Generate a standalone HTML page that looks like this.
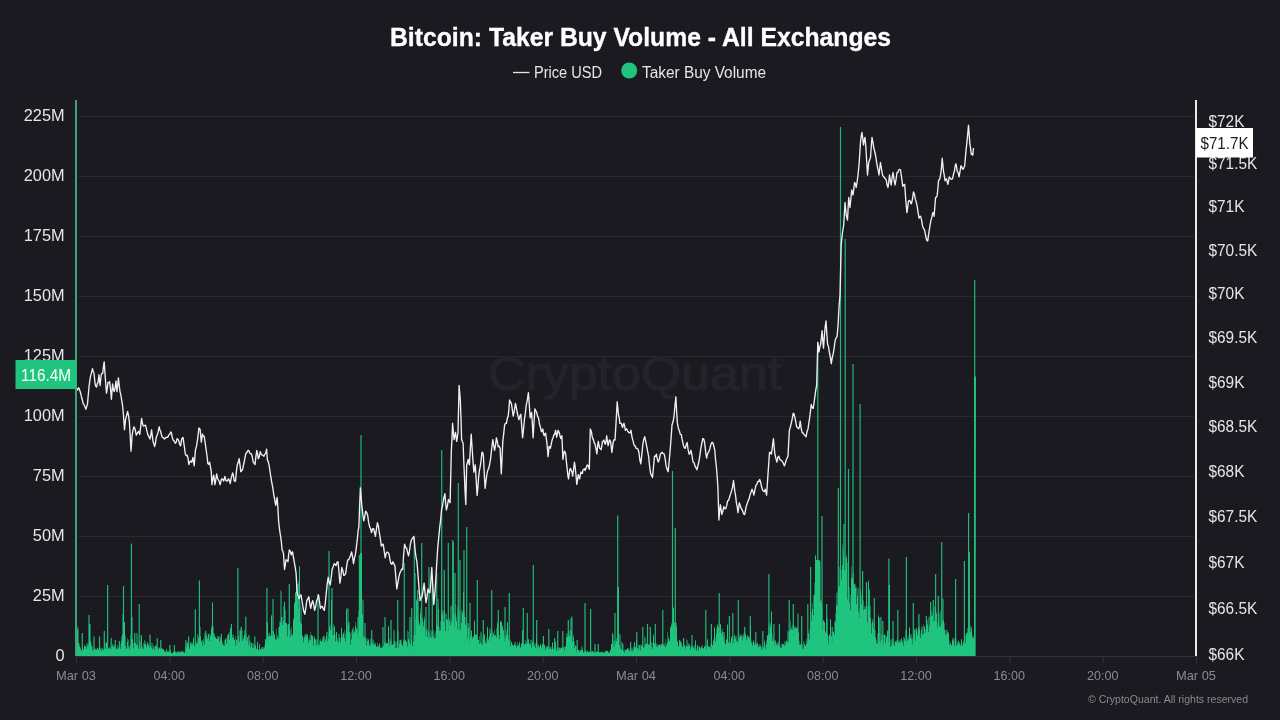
<!DOCTYPE html>
<html><head><meta charset="utf-8"><title>Bitcoin: Taker Buy Volume - All Exchanges</title>
<style>html,body{margin:0;padding:0;background:#1b1a20;width:1280px;height:720px;overflow:hidden}svg{display:block}</style>
</head><body>
<svg width="1280" height="720" viewBox="0 0 1280 720">
<rect width="1280" height="720" fill="#1b1a20"/>
<line x1="78" y1="596.5" x2="1194" y2="596.5" stroke="#2a2930" stroke-width="1"/>
<line x1="78" y1="536.5" x2="1194" y2="536.5" stroke="#2a2930" stroke-width="1"/>
<line x1="78" y1="476.5" x2="1194" y2="476.5" stroke="#2a2930" stroke-width="1"/>
<line x1="78" y1="416.5" x2="1194" y2="416.5" stroke="#2a2930" stroke-width="1"/>
<line x1="78" y1="356.5" x2="1194" y2="356.5" stroke="#2a2930" stroke-width="1"/>
<line x1="78" y1="296.5" x2="1194" y2="296.5" stroke="#2a2930" stroke-width="1"/>
<line x1="78" y1="236.5" x2="1194" y2="236.5" stroke="#2a2930" stroke-width="1"/>
<line x1="78" y1="176.5" x2="1194" y2="176.5" stroke="#2a2930" stroke-width="1"/>
<line x1="78" y1="116.5" x2="1194" y2="116.5" stroke="#2a2930" stroke-width="1"/>
<text x="635" y="390" text-anchor="middle" font-family="Liberation Sans, sans-serif" font-size="48" fill="#242329" stroke="#242329" stroke-width="1.2" textLength="294" lengthAdjust="spacingAndGlyphs">CryptoQuant</text>
<line x1="76" y1="656.5" x2="1196" y2="656.5" stroke="#33323a" stroke-width="1"/>
<line x1="76.5" y1="656" x2="76.5" y2="663" stroke="#33323a" stroke-width="1"/>
<text x="76.0" y="679.5" text-anchor="middle" font-family="Liberation Sans, sans-serif" font-size="13" fill="#8c8b91" textLength="40.0" lengthAdjust="spacingAndGlyphs">Mar 03</text>
<line x1="169.8" y1="656" x2="169.8" y2="663" stroke="#33323a" stroke-width="1"/>
<text x="169.3" y="679.5" text-anchor="middle" font-family="Liberation Sans, sans-serif" font-size="13" fill="#8c8b91" textLength="31.5" lengthAdjust="spacingAndGlyphs">04:00</text>
<line x1="263.2" y1="656" x2="263.2" y2="663" stroke="#33323a" stroke-width="1"/>
<text x="262.7" y="679.5" text-anchor="middle" font-family="Liberation Sans, sans-serif" font-size="13" fill="#8c8b91" textLength="31.5" lengthAdjust="spacingAndGlyphs">08:00</text>
<line x1="356.5" y1="656" x2="356.5" y2="663" stroke="#33323a" stroke-width="1"/>
<text x="356.0" y="679.5" text-anchor="middle" font-family="Liberation Sans, sans-serif" font-size="13" fill="#8c8b91" textLength="31.5" lengthAdjust="spacingAndGlyphs">12:00</text>
<line x1="449.8" y1="656" x2="449.8" y2="663" stroke="#33323a" stroke-width="1"/>
<text x="449.3" y="679.5" text-anchor="middle" font-family="Liberation Sans, sans-serif" font-size="13" fill="#8c8b91" textLength="31.5" lengthAdjust="spacingAndGlyphs">16:00</text>
<line x1="543.2" y1="656" x2="543.2" y2="663" stroke="#33323a" stroke-width="1"/>
<text x="542.7" y="679.5" text-anchor="middle" font-family="Liberation Sans, sans-serif" font-size="13" fill="#8c8b91" textLength="31.5" lengthAdjust="spacingAndGlyphs">20:00</text>
<line x1="636.5" y1="656" x2="636.5" y2="663" stroke="#33323a" stroke-width="1"/>
<text x="636.0" y="679.5" text-anchor="middle" font-family="Liberation Sans, sans-serif" font-size="13" fill="#8c8b91" textLength="40.0" lengthAdjust="spacingAndGlyphs">Mar 04</text>
<line x1="729.8" y1="656" x2="729.8" y2="663" stroke="#33323a" stroke-width="1"/>
<text x="729.3" y="679.5" text-anchor="middle" font-family="Liberation Sans, sans-serif" font-size="13" fill="#8c8b91" textLength="31.5" lengthAdjust="spacingAndGlyphs">04:00</text>
<line x1="823.2" y1="656" x2="823.2" y2="663" stroke="#33323a" stroke-width="1"/>
<text x="822.7" y="679.5" text-anchor="middle" font-family="Liberation Sans, sans-serif" font-size="13" fill="#8c8b91" textLength="31.5" lengthAdjust="spacingAndGlyphs">08:00</text>
<line x1="916.5" y1="656" x2="916.5" y2="663" stroke="#33323a" stroke-width="1"/>
<text x="916.0" y="679.5" text-anchor="middle" font-family="Liberation Sans, sans-serif" font-size="13" fill="#8c8b91" textLength="31.5" lengthAdjust="spacingAndGlyphs">12:00</text>
<line x1="1009.8" y1="656" x2="1009.8" y2="663" stroke="#33323a" stroke-width="1"/>
<text x="1009.3" y="679.5" text-anchor="middle" font-family="Liberation Sans, sans-serif" font-size="13" fill="#8c8b91" textLength="31.5" lengthAdjust="spacingAndGlyphs">16:00</text>
<line x1="1103.2" y1="656" x2="1103.2" y2="663" stroke="#33323a" stroke-width="1"/>
<text x="1102.7" y="679.5" text-anchor="middle" font-family="Liberation Sans, sans-serif" font-size="13" fill="#8c8b91" textLength="31.5" lengthAdjust="spacingAndGlyphs">20:00</text>
<line x1="1196.5" y1="656" x2="1196.5" y2="663" stroke="#33323a" stroke-width="1"/>
<text x="1196.0" y="679.5" text-anchor="middle" font-family="Liberation Sans, sans-serif" font-size="13" fill="#8c8b91" textLength="40.0" lengthAdjust="spacingAndGlyphs">Mar 05</text>
<path d="M76,656L76.00,643.1L76.50,643.1L76.50,628.8L77.00,628.8L77.00,629.8L77.50,629.8L77.50,626.4L78.00,626.4L78.00,627.4L78.50,627.4L78.50,642.8L79.00,642.8L79.00,646.3L79.50,646.3L79.50,643.4L80.00,643.4L80.00,649.0L80.50,649.0L80.50,647.4L81.00,647.4L81.00,651.0L81.50,651.0L81.50,650.6L82.00,650.6L82.00,648.5L82.50,648.5L82.50,646.6L83.00,646.6L83.00,649.7L83.50,649.7L83.50,648.7L84.00,648.7L84.00,646.3L84.50,646.3L84.50,644.6L85.00,644.6L85.00,645.9L85.50,645.9L85.50,646.5L86.00,646.5L86.00,643.4L86.50,643.4L86.50,648.9L87.00,648.9L87.00,643.1L87.50,643.1L87.50,646.1L88.00,646.1L88.00,647.1L88.50,647.1L88.50,643.3L89.00,643.3L89.00,624.0L89.50,624.0L89.50,624.0L90.00,624.0L90.00,624.0L90.50,624.0L90.50,641.1L91.00,641.1L91.00,643.5L91.50,643.5L91.50,646.2L92.00,646.2L92.00,646.4L92.50,646.4L92.50,650.3L93.00,650.3L93.00,651.1L93.50,651.1L93.50,650.1L94.00,650.1L94.00,648.2L94.50,648.2L94.50,649.1L95.00,649.1L95.00,649.6L95.50,649.6L95.50,648.5L96.00,648.5L96.00,649.0L96.50,649.0L96.50,649.7L97.00,649.7L97.00,647.8L97.50,647.8L97.50,648.1L98.00,648.1L98.00,649.9L98.50,649.9L98.50,648.6L99.00,648.6L99.00,648.7L99.50,648.7L99.50,647.6L100.00,647.6L100.00,648.0L100.50,648.0L100.50,649.7L101.00,649.7L101.00,647.3L101.50,647.3L101.50,650.7L102.00,650.7L102.00,649.2L102.50,649.2L102.50,647.9L103.00,647.9L103.00,650.5L103.50,650.5L103.50,648.9L104.00,648.9L104.00,651.3L104.50,651.3L104.50,641.9L105.00,641.9L105.00,642.9L105.50,642.9L105.50,648.6L106.00,648.6L106.00,641.7L106.50,641.7L106.50,642.7L107.00,642.7L107.00,648.1L107.50,648.1L107.50,648.5L108.00,648.5L108.00,648.5L108.50,648.5L108.50,649.0L109.00,649.0L109.00,647.7L109.50,647.7L109.50,647.4L110.00,647.4L110.00,648.9L110.50,648.9L110.50,647.5L111.00,647.5L111.00,650.2L111.50,650.2L111.50,645.9L112.00,645.9L112.00,645.4L112.50,645.4L112.50,643.9L113.00,643.9L113.00,644.6L113.50,644.6L113.50,647.4L114.00,647.4L114.00,646.8L114.50,646.8L114.50,645.3L115.00,645.3L115.00,649.8L115.50,649.8L115.50,646.3L116.00,646.3L116.00,648.2L116.50,648.2L116.50,648.7L117.00,648.7L117.00,649.3L117.50,649.3L117.50,644.9L118.00,644.9L118.00,648.6L118.50,648.6L118.50,647.6L119.00,647.6L119.00,646.7L119.50,646.7L119.50,644.4L120.00,644.4L120.00,649.0L120.50,649.0L120.50,644.2L121.00,644.2L121.00,641.3L121.50,641.3L121.50,636.4L122.00,636.4L122.00,634.3L122.50,634.3L122.50,614.2L123.00,614.2L123.00,615.2L123.50,615.2L123.50,622.0L124.00,622.0L124.00,622.0L124.50,622.0L124.50,622.0L125.00,622.0L125.00,635.4L125.50,635.4L125.50,646.0L126.00,646.0L126.00,648.9L126.50,648.9L126.50,648.2L127.00,648.2L127.00,647.9L127.50,647.9L127.50,638.6L128.00,638.6L128.00,639.6L128.50,639.6L128.50,646.9L129.00,646.9L129.00,649.6L129.50,649.6L129.50,645.2L130.00,645.2L130.00,645.2L130.50,645.2L130.50,634.7L131.00,634.7L131.00,617.0L131.50,617.0L131.50,617.0L132.00,617.0L132.00,617.0L132.50,617.0L132.50,638.9L133.00,638.9L133.00,643.3L133.50,643.3L133.50,648.2L134.00,648.2L134.00,642.3L134.50,642.3L134.50,643.0L135.00,643.0L135.00,642.6L135.50,642.6L135.50,643.1L136.00,643.1L136.00,645.4L136.50,645.4L136.50,632.5L137.00,632.5L137.00,633.5L137.50,633.5L137.50,644.2L138.00,644.2L138.00,648.5L138.50,648.5L138.50,648.4L139.00,648.4L139.00,647.1L139.50,647.1L139.50,640.7L140.00,640.7L140.00,641.7L140.50,641.7L140.50,648.7L141.00,648.7L141.00,636.4L141.50,636.4L141.50,637.4L142.00,637.4L142.00,648.0L142.50,648.0L142.50,645.9L143.00,645.9L143.00,649.0L143.50,649.0L143.50,643.0L144.00,643.0L144.00,644.2L144.50,644.2L144.50,640.0L145.00,640.0L145.00,641.0L145.50,641.0L145.50,645.7L146.00,645.7L146.00,645.6L146.50,645.6L146.50,647.5L147.00,647.5L147.00,642.7L147.50,642.7L147.50,642.0L148.00,642.0L148.00,644.7L148.50,644.7L148.50,644.6L149.00,644.6L149.00,647.8L149.50,647.8L149.50,647.5L150.00,647.5L150.00,645.4L150.50,645.4L150.50,646.2L151.00,646.2L151.00,643.0L151.50,643.0L151.50,647.4L152.00,647.4L152.00,649.2L152.50,649.2L152.50,643.3L153.00,643.3L153.00,645.5L153.50,645.5L153.50,648.2L154.00,648.2L154.00,645.9L154.50,645.9L154.50,649.9L155.00,649.9L155.00,646.5L155.50,646.5L155.50,644.8L156.00,644.8L156.00,645.5L156.50,645.5L156.50,646.4L157.00,646.4L157.00,648.7L157.50,648.7L157.50,648.3L158.00,648.3L158.00,649.7L158.50,649.7L158.50,647.1L159.00,647.1L159.00,648.3L159.50,648.3L159.50,647.6L160.00,647.6L160.00,649.5L160.50,649.5L160.50,650.2L161.00,650.2L161.00,648.2L161.50,648.2L161.50,647.9L162.00,647.9L162.00,648.5L162.50,648.5L162.50,648.8L163.00,648.8L163.00,649.0L163.50,649.0L163.50,649.4L164.00,649.4L164.00,651.2L164.50,651.2L164.50,650.4L165.00,650.4L165.00,651.1L165.50,651.1L165.50,652.7L166.00,652.7L166.00,648.7L166.50,648.7L166.50,649.7L167.00,649.7L167.00,652.0L167.50,652.0L167.50,651.1L168.00,651.1L168.00,650.8L168.50,650.8L168.50,652.0L169.00,652.0L169.00,651.3L169.50,651.3L169.50,651.4L170.00,651.4L170.00,649.4L170.50,649.4L170.50,650.4L171.00,650.4L171.00,653.0L171.50,653.0L171.50,652.9L172.00,652.9L172.00,653.0L172.50,653.0L172.50,653.0L173.00,653.0L173.00,652.0L173.50,652.0L173.50,651.5L174.00,651.5L174.00,651.6L174.50,651.6L174.50,652.2L175.00,652.2L175.00,651.8L175.50,651.8L175.50,651.5L176.00,651.5L176.00,653.2L176.50,653.2L176.50,651.7L177.00,651.7L177.00,651.2L177.50,651.2L177.50,651.4L178.00,651.4L178.00,651.4L178.50,651.4L178.50,652.0L179.00,652.0L179.00,652.7L179.50,652.7L179.50,651.3L180.00,651.3L180.00,652.2L180.50,652.2L180.50,651.2L181.00,651.2L181.00,650.8L181.50,650.8L181.50,652.0L182.00,652.0L182.00,651.9L182.50,651.9L182.50,650.8L183.00,650.8L183.00,651.2L183.50,651.2L183.50,652.5L184.00,652.5L184.00,652.7L184.50,652.7L184.50,652.6L185.00,652.6L185.00,650.7L185.50,650.7L185.50,646.8L186.00,646.8L186.00,647.0L186.50,647.0L186.50,642.5L187.00,642.5L187.00,641.8L187.50,641.8L187.50,643.4L188.00,643.4L188.00,645.3L188.50,645.3L188.50,644.1L189.00,644.1L189.00,647.2L189.50,647.2L189.50,648.9L190.00,648.9L190.00,641.8L190.50,641.8L190.50,643.5L191.00,643.5L191.00,644.2L191.50,644.2L191.50,642.0L192.00,642.0L192.00,644.8L192.50,644.8L192.50,642.3L193.00,642.3L193.00,637.2L193.50,637.2L193.50,638.2L194.00,638.2L194.00,646.1L194.50,646.1L194.50,645.8L195.00,645.8L195.00,646.2L195.50,646.2L195.50,642.4L196.00,642.4L196.00,643.7L196.50,643.7L196.50,641.0L197.00,641.0L197.00,643.1L197.50,643.1L197.50,634.1L198.00,634.1L198.00,637.9L198.50,637.9L198.50,635.4L199.00,635.4L199.00,627.0L199.50,627.0L199.50,627.0L200.00,627.0L200.00,627.0L200.50,627.0L200.50,636.5L201.00,636.5L201.00,641.7L201.50,641.7L201.50,640.6L202.00,640.6L202.00,639.9L202.50,639.9L202.50,645.7L203.00,645.7L203.00,639.1L203.50,639.1L203.50,641.4L204.00,641.4L204.00,644.9L204.50,644.9L204.50,633.3L205.00,633.3L205.00,639.7L205.50,639.7L205.50,636.1L206.00,636.1L206.00,634.1L206.50,634.1L206.50,636.2L207.00,636.2L207.00,639.1L207.50,639.1L207.50,637.5L208.00,637.5L208.00,637.6L208.50,637.6L208.50,634.1L209.00,634.1L209.00,640.9L209.50,640.9L209.50,633.4L210.00,633.4L210.00,636.2L210.50,636.2L210.50,634.6L211.00,634.6L211.00,626.6L211.50,626.6L211.50,628.6L212.00,628.6L212.00,602.0L212.50,602.0L212.50,603.0L213.00,603.0L213.00,626.1L213.50,626.1L213.50,633.4L214.00,633.4L214.00,633.3L214.50,633.3L214.50,636.2L215.00,636.2L215.00,638.0L215.50,638.0L215.50,636.6L216.00,636.6L216.00,638.9L216.50,638.9L216.50,638.3L217.00,638.3L217.00,639.0L217.50,639.0L217.50,635.5L218.00,635.5L218.00,637.5L218.50,637.5L218.50,636.4L219.00,636.4L219.00,636.1L219.50,636.1L219.50,642.0L220.00,642.0L220.00,639.4L220.50,639.4L220.50,636.8L221.00,636.8L221.00,637.7L221.50,637.7L221.50,644.1L222.00,644.1L222.00,644.5L222.50,644.5L222.50,641.2L223.00,641.2L223.00,645.5L223.50,645.5L223.50,643.5L224.00,643.5L224.00,645.8L224.50,645.8L224.50,640.3L225.00,640.3L225.00,639.7L225.50,639.7L225.50,638.2L226.00,638.2L226.00,643.9L226.50,643.9L226.50,638.0L227.00,638.0L227.00,637.8L227.50,637.8L227.50,642.6L228.00,642.6L228.00,634.6L228.50,634.6L228.50,633.1L229.00,633.1L229.00,639.9L229.50,639.9L229.50,631.7L230.00,631.7L230.00,627.5L230.50,627.5L230.50,628.5L231.00,628.5L231.00,629.1L231.50,629.1L231.50,629.8L232.00,629.8L232.00,637.8L232.50,637.8L232.50,634.4L233.00,634.4L233.00,634.3L233.50,634.3L233.50,637.3L234.00,637.3L234.00,640.0L234.50,640.0L234.50,639.2L235.00,639.2L235.00,636.1L235.50,636.1L235.50,645.4L236.00,645.4L236.00,639.4L236.50,639.4L236.50,639.7L237.00,639.7L237.00,645.1L237.50,645.1L237.50,639.5L238.00,639.5L238.00,635.8L238.50,635.8L238.50,636.2L239.00,636.2L239.00,642.0L239.50,642.0L239.50,630.2L240.00,630.2L240.00,631.1L240.50,631.1L240.50,628.5L241.00,628.5L241.00,639.0L241.50,639.0L241.50,636.2L242.00,636.2L242.00,641.0L242.50,641.0L242.50,630.3L243.00,630.3L243.00,636.7L243.50,636.7L243.50,639.3L244.00,639.3L244.00,635.0L244.50,635.0L244.50,630.1L245.00,630.1L245.00,631.2L245.50,631.2L245.50,638.4L246.00,638.4L246.00,640.8L246.50,640.8L246.50,633.5L247.00,633.5L247.00,637.4L247.50,637.4L247.50,637.3L248.00,637.3L248.00,644.5L248.50,644.5L248.50,645.7L249.00,645.7L249.00,640.3L249.50,640.3L249.50,643.1L250.00,643.1L250.00,647.3L250.50,647.3L250.50,641.2L251.00,641.2L251.00,643.2L251.50,643.2L251.50,642.6L252.00,642.6L252.00,647.9L252.50,647.9L252.50,642.9L253.00,642.9L253.00,648.5L253.50,648.5L253.50,643.5L254.00,643.5L254.00,645.9L254.50,645.9L254.50,646.8L255.00,646.8L255.00,645.9L255.50,645.9L255.50,644.5L256.00,644.5L256.00,648.0L256.50,648.0L256.50,649.2L257.00,649.2L257.00,641.4L257.50,641.4L257.50,642.4L258.00,642.4L258.00,649.9L258.50,649.9L258.50,649.8L259.00,649.8L259.00,643.8L259.50,643.8L259.50,644.8L260.00,644.8L260.00,649.6L260.50,649.6L260.50,649.2L261.00,649.2L261.00,646.9L261.50,646.9L261.50,648.5L262.00,648.5L262.00,647.0L262.50,647.0L262.50,648.5L263.00,648.5L263.00,647.0L263.50,647.0L263.50,649.1L264.00,649.1L264.00,645.3L264.50,645.3L264.50,647.5L265.00,647.5L265.00,639.0L265.50,639.0L265.50,639.0L266.00,639.0L266.00,641.6L266.50,641.6L266.50,622.0L267.00,622.0L267.00,622.0L267.50,622.0L267.50,622.0L268.00,622.0L268.00,633.3L268.50,633.3L268.50,636.8L269.00,636.8L269.00,635.9L269.50,635.9L269.50,632.4L270.00,632.4L270.00,636.6L270.50,636.6L270.50,635.0L271.00,635.0L271.00,614.7L271.50,614.7L271.50,615.7L272.00,615.7L272.00,636.0L272.50,636.0L272.50,630.2L273.00,630.2L273.00,631.1L273.50,631.1L273.50,631.5L274.00,631.5L274.00,633.9L274.50,633.9L274.50,634.6L275.00,634.6L275.00,640.0L275.50,640.0L275.50,638.0L276.00,638.0L276.00,639.3L276.50,639.3L276.50,629.0L277.00,629.0L277.00,635.2L277.50,635.2L277.50,636.8L278.00,636.8L278.00,638.4L278.50,638.4L278.50,627.1L279.00,627.1L279.00,626.5L279.50,626.5L279.50,621.5L280.00,621.5L280.00,622.4L280.50,622.4L280.50,590.6L281.00,590.6L281.00,591.6L281.50,591.6L281.50,617.3L282.00,617.3L282.00,624.9L282.50,624.9L282.50,617.0L283.00,617.0L283.00,621.2L283.50,621.2L283.50,606.4L284.00,606.4L284.00,605.9L284.50,605.9L284.50,614.9L285.00,614.9L285.00,623.0L285.50,623.0L285.50,610.1L286.00,610.1L286.00,623.3L286.50,623.3L286.50,623.3L287.00,623.3L287.00,636.4L287.50,636.4L287.50,624.8L288.00,624.8L288.00,624.2L288.50,624.2L288.50,623.9L289.00,623.9L289.00,630.1L289.50,630.1L289.50,624.3L290.00,624.3L290.00,637.6L290.50,637.6L290.50,629.2L291.00,629.2L291.00,633.9L291.50,633.9L291.50,627.0L292.00,627.0L292.00,636.0L292.50,636.0L292.50,633.8L293.00,633.8L293.00,620.3L293.50,620.3L293.50,618.1L294.00,618.1L294.00,603.6L294.50,603.6L294.50,601.9L295.00,601.9L295.00,592.7L295.50,592.7L295.50,591.7L296.00,591.7L296.00,586.6L296.50,586.6L296.50,582.5L297.00,582.5L297.00,597.7L297.50,597.7L297.50,600.4L298.00,600.4L298.00,580.8L298.50,580.8L298.50,608.7L299.00,608.7L299.00,566.0L299.50,566.0L299.50,567.0L300.00,567.0L300.00,622.3L300.50,622.3L300.50,602.5L301.00,602.5L301.00,607.2L301.50,607.2L301.50,624.5L302.00,624.5L302.00,636.0L302.50,636.0L302.50,635.3L303.00,635.3L303.00,642.2L303.50,642.2L303.50,637.5L304.00,637.5L304.00,637.6L304.50,637.6L304.50,634.6L305.00,634.6L305.00,634.7L305.50,634.7L305.50,634.4L306.00,634.4L306.00,636.4L306.50,636.4L306.50,633.3L307.00,633.3L307.00,634.7L307.50,634.7L307.50,634.3L308.00,634.3L308.00,639.2L308.50,639.2L308.50,642.8L309.00,642.8L309.00,640.2L309.50,640.2L309.50,636.5L310.00,636.5L310.00,640.3L310.50,640.3L310.50,631.8L311.00,631.8L311.00,635.1L311.50,635.1L311.50,635.0L312.00,635.0L312.00,635.7L312.50,635.7L312.50,635.8L313.00,635.8L313.00,638.2L313.50,638.2L313.50,645.8L314.00,645.8L314.00,636.3L314.50,636.3L314.50,637.1L315.00,637.1L315.00,639.5L315.50,639.5L315.50,639.6L316.00,639.6L316.00,639.0L316.50,639.0L316.50,645.4L317.00,645.4L317.00,639.2L317.50,639.2L317.50,643.5L318.00,643.5L318.00,646.0L318.50,646.0L318.50,643.9L319.00,643.9L319.00,640.6L319.50,640.6L319.50,644.8L320.00,644.8L320.00,641.0L320.50,641.0L320.50,638.8L321.00,638.8L321.00,641.2L321.50,641.2L321.50,641.5L322.00,641.5L322.00,639.9L322.50,639.9L322.50,637.5L323.00,637.5L323.00,636.1L323.50,636.1L323.50,636.5L324.00,636.5L324.00,635.6L324.50,635.6L324.50,642.1L325.00,642.1L325.00,640.2L325.50,640.2L325.50,637.9L326.00,637.9L326.00,631.5L326.50,631.5L326.50,636.0L327.00,636.0L327.00,631.9L327.50,631.9L327.50,641.3L328.00,641.3L328.00,638.9L328.50,638.9L328.50,633.6L329.00,633.6L329.00,626.8L329.50,626.8L329.50,625.6L330.00,625.6L330.00,624.8L330.50,624.8L330.50,630.1L331.00,630.1L331.00,600.0L331.50,600.0L331.50,601.0L332.00,601.0L332.00,627.9L332.50,627.9L332.50,635.3L333.00,635.3L333.00,624.2L333.50,624.2L333.50,634.9L334.00,634.9L334.00,625.4L334.50,625.4L334.50,626.9L335.00,626.9L335.00,641.6L335.50,641.6L335.50,634.4L336.00,634.4L336.00,631.9L336.50,631.9L336.50,632.1L337.00,632.1L337.00,638.0L337.50,638.0L337.50,641.1L338.00,641.1L338.00,642.8L338.50,642.8L338.50,633.4L339.00,633.4L339.00,634.4L339.50,634.4L339.50,638.1L340.00,638.1L340.00,642.6L340.50,642.6L340.50,638.0L341.00,638.0L341.00,627.3L341.50,627.3L341.50,628.3L342.00,628.3L342.00,634.3L342.50,634.3L342.50,636.5L343.00,636.5L343.00,632.3L343.50,632.3L343.50,633.2L344.00,633.2L344.00,638.2L344.50,638.2L344.50,630.0L345.00,630.0L345.00,633.6L345.50,633.6L345.50,641.4L346.00,641.4L346.00,608.5L346.50,608.5L346.50,609.5L347.00,609.5L347.00,631.6L347.50,631.6L347.50,607.5L348.00,607.5L348.00,608.5L348.50,608.5L348.50,621.7L349.00,621.7L349.00,622.7L349.50,622.7L349.50,632.1L350.00,632.1L350.00,644.7L350.50,644.7L350.50,633.0L351.00,633.0L351.00,631.2L351.50,631.2L351.50,639.5L352.00,639.5L352.00,628.5L352.50,628.5L352.50,629.8L353.00,629.8L353.00,626.9L353.50,626.9L353.50,633.8L354.00,633.8L354.00,631.7L354.50,631.7L354.50,630.6L355.00,630.6L355.00,621.9L355.50,621.9L355.50,626.2L356.00,626.2L356.00,629.0L356.50,629.0L356.50,627.2L357.00,627.2L357.00,629.3L357.50,629.3L357.50,635.0L358.00,635.0L358.00,632.5L358.50,632.5L358.50,610.6L359.00,610.6L359.00,615.8L359.50,615.8L359.50,595.7L360.00,595.7L360.00,553.0L360.50,553.0L360.50,553.0L361.00,553.0L361.00,553.0L361.50,553.0L361.50,553.0L362.00,553.0L362.00,614.5L362.50,614.5L362.50,599.6L363.00,599.6L363.00,600.6L363.50,600.6L363.50,636.7L364.00,636.7L364.00,638.3L364.50,638.3L364.50,636.5L365.00,636.5L365.00,636.6L365.50,636.6L365.50,639.6L366.00,639.6L366.00,638.4L366.50,638.4L366.50,645.5L367.00,645.5L367.00,638.6L367.50,638.6L367.50,640.9L368.00,640.9L368.00,638.8L368.50,638.8L368.50,639.7L369.00,639.7L369.00,642.8L369.50,642.8L369.50,646.0L370.00,646.0L370.00,638.2L370.50,638.2L370.50,644.9L371.00,644.9L371.00,641.6L371.50,641.6L371.50,642.8L372.00,642.8L372.00,643.4L372.50,643.4L372.50,640.3L373.00,640.3L373.00,639.2L373.50,639.2L373.50,644.4L374.00,644.4L374.00,641.8L374.50,641.8L374.50,644.6L375.00,644.6L375.00,643.0L375.50,643.0L375.50,644.4L376.00,644.4L376.00,646.5L376.50,646.5L376.50,646.8L377.00,646.8L377.00,646.6L377.50,646.6L377.50,642.6L378.00,642.6L378.00,645.0L378.50,645.0L378.50,647.1L379.00,647.1L379.00,643.6L379.50,643.6L379.50,643.6L380.00,643.6L380.00,646.4L380.50,646.4L380.50,648.3L381.00,648.3L381.00,647.6L381.50,647.6L381.50,648.3L382.00,648.3L382.00,646.0L382.50,646.0L382.50,647.9L383.00,647.9L383.00,646.3L383.50,646.3L383.50,645.9L384.00,645.9L384.00,643.5L384.50,643.5L384.50,641.4L385.00,641.4L385.00,641.8L385.50,641.8L385.50,643.7L386.00,643.7L386.00,643.4L386.50,643.4L386.50,642.3L387.00,642.3L387.00,643.2L387.50,643.2L387.50,643.2L388.00,643.2L388.00,625.7L388.50,625.7L388.50,626.7L389.00,626.7L389.00,638.9L389.50,638.9L389.50,645.5L390.00,645.5L390.00,642.2L390.50,642.2L390.50,641.4L391.00,641.4L391.00,640.1L391.50,640.1L391.50,644.9L392.00,644.9L392.00,644.5L392.50,644.5L392.50,644.8L393.00,644.8L393.00,643.7L393.50,643.7L393.50,629.4L394.00,629.4L394.00,630.4L394.50,630.4L394.50,641.2L395.00,641.2L395.00,641.3L395.50,641.3L395.50,648.1L396.00,648.1L396.00,647.8L396.50,647.8L396.50,641.8L397.00,641.8L397.00,640.6L397.50,640.6L397.50,630.5L398.00,630.5L398.00,631.5L398.50,631.5L398.50,648.5L399.00,648.5L399.00,643.4L399.50,643.4L399.50,639.8L400.00,639.8L400.00,640.2L400.50,640.2L400.50,639.9L401.00,639.9L401.00,639.1L401.50,639.1L401.50,644.1L402.00,644.1L402.00,645.6L402.50,645.6L402.50,645.0L403.00,645.0L403.00,641.5L403.50,641.5L403.50,640.4L404.00,640.4L404.00,638.7L404.50,638.7L404.50,640.1L405.00,640.1L405.00,640.6L405.50,640.6L405.50,639.8L406.00,639.8L406.00,642.0L406.50,642.0L406.50,641.3L407.00,641.3L407.00,646.6L407.50,646.6L407.50,630.5L408.00,630.5L408.00,631.5L408.50,631.5L408.50,638.9L409.00,638.9L409.00,640.6L409.50,640.6L409.50,643.3L410.00,643.3L410.00,645.2L410.50,645.2L410.50,643.8L411.00,643.8L411.00,640.7L411.50,640.7L411.50,640.3L412.00,640.3L412.00,645.4L412.50,645.4L412.50,646.0L413.00,646.0L413.00,641.5L413.50,641.5L413.50,635.7L414.00,635.7L414.00,632.9L414.50,632.9L414.50,631.3L415.00,631.3L415.00,619.3L415.50,619.3L415.50,635.4L416.00,635.4L416.00,599.5L416.50,599.5L416.50,600.5L417.00,600.5L417.00,616.9L417.50,616.9L417.50,596.7L418.00,596.7L418.00,597.7L418.50,597.7L418.50,620.6L419.00,620.6L419.00,624.9L419.50,624.9L419.50,623.6L420.00,623.6L420.00,608.2L420.50,608.2L420.50,613.4L421.00,613.4L421.00,622.3L421.50,622.3L421.50,632.7L422.00,632.7L422.00,619.5L422.50,619.5L422.50,617.1L423.00,617.1L423.00,622.4L423.50,622.4L423.50,626.6L424.00,626.6L424.00,619.5L424.50,619.5L424.50,616.5L425.00,616.5L425.00,629.1L425.50,629.1L425.50,636.3L426.00,636.3L426.00,630.0L426.50,630.0L426.50,630.3L427.00,630.3L427.00,628.6L427.50,628.6L427.50,637.1L428.00,637.1L428.00,631.4L428.50,631.4L428.50,632.0L429.00,632.0L429.00,634.4L429.50,634.4L429.50,638.4L430.00,638.4L430.00,629.9L430.50,629.9L430.50,636.8L431.00,636.8L431.00,631.2L431.50,631.2L431.50,638.0L432.00,638.0L432.00,638.2L432.50,638.2L432.50,631.8L433.00,631.8L433.00,637.1L433.50,637.1L433.50,630.0L434.00,630.0L434.00,634.5L434.50,634.5L434.50,638.7L435.00,638.7L435.00,638.1L435.50,638.1L435.50,631.2L436.00,631.2L436.00,623.0L436.50,623.0L436.50,613.8L437.00,613.8L437.00,625.7L437.50,625.7L437.50,597.9L438.00,597.9L438.00,598.9L438.50,598.9L438.50,609.2L439.00,609.2L439.00,626.8L439.50,626.8L439.50,630.7L440.00,630.7L440.00,630.5L440.50,630.5L440.50,621.1L441.00,621.1L441.00,612.4L441.50,612.4L441.50,612.4L442.00,612.4L442.00,614.6L442.50,614.6L442.50,610.1L443.00,610.1L443.00,610.8L443.50,610.8L443.50,621.9L444.00,621.9L444.00,625.5L444.50,625.5L444.50,610.0L445.00,610.0L445.00,612.9L445.50,612.9L445.50,631.1L446.00,631.1L446.00,613.7L446.50,613.7L446.50,619.3L447.00,619.3L447.00,619.2L447.50,619.2L447.50,620.0L448.00,620.0L448.00,624.3L448.50,624.3L448.50,632.6L449.00,632.6L449.00,620.6L449.50,620.6L449.50,618.5L450.00,618.5L450.00,606.1L450.50,606.1L450.50,624.9L451.00,624.9L451.00,605.3L451.50,605.3L451.50,621.6L452.00,621.6L452.00,617.1L452.50,617.1L452.50,606.9L453.00,606.9L453.00,606.6L453.50,606.6L453.50,614.5L454.00,614.5L454.00,627.0L454.50,627.0L454.50,613.0L455.00,613.0L455.00,615.2L455.50,615.2L455.50,604.1L456.00,604.1L456.00,621.3L456.50,621.3L456.50,616.7L457.00,616.7L457.00,606.1L457.50,606.1L457.50,629.3L458.00,629.3L458.00,616.8L458.50,616.8L458.50,609.2L459.00,609.2L459.00,610.5L459.50,610.5L459.50,629.8L460.00,629.8L460.00,630.5L460.50,630.5L460.50,629.2L461.00,629.2L461.00,609.5L461.50,609.5L461.50,623.0L462.00,623.0L462.00,613.0L462.50,613.0L462.50,610.8L463.00,610.8L463.00,591.8L463.50,591.8L463.50,592.8L464.00,592.8L464.00,610.9L464.50,610.9L464.50,616.8L465.00,616.8L465.00,624.5L465.50,624.5L465.50,617.0L466.00,617.0L466.00,625.9L466.50,625.9L466.50,628.1L467.00,628.1L467.00,638.2L467.50,638.2L467.50,623.3L468.00,623.3L468.00,623.1L468.50,623.1L468.50,628.2L469.00,628.2L469.00,626.4L469.50,626.4L469.50,641.5L470.00,641.5L470.00,638.0L470.50,638.0L470.50,635.0L471.00,635.0L471.00,630.5L471.50,630.5L471.50,630.8L472.00,630.8L472.00,636.7L472.50,636.7L472.50,638.7L473.00,638.7L473.00,636.6L473.50,636.6L473.50,636.1L474.00,636.1L474.00,620.3L474.50,620.3L474.50,621.3L475.00,621.3L475.00,633.9L475.50,633.9L475.50,634.7L476.00,634.7L476.00,634.3L476.50,634.3L476.50,635.0L477.00,635.0L477.00,636.6L477.50,636.6L477.50,639.7L478.00,639.7L478.00,639.9L478.50,639.9L478.50,639.7L479.00,639.7L479.00,636.2L479.50,636.2L479.50,643.9L480.00,643.9L480.00,642.2L480.50,642.2L480.50,631.6L481.00,631.6L481.00,632.6L481.50,632.6L481.50,644.1L482.00,644.1L482.00,644.8L482.50,644.8L482.50,638.1L483.00,638.1L483.00,640.2L483.50,640.2L483.50,634.5L484.00,634.5L484.00,635.1L484.50,635.1L484.50,634.2L485.00,634.2L485.00,640.6L485.50,640.6L485.50,643.2L486.00,643.2L486.00,642.9L486.50,642.9L486.50,637.8L487.00,637.8L487.00,626.6L487.50,626.6L487.50,627.6L488.00,627.6L488.00,640.5L488.50,640.5L488.50,638.3L489.00,638.3L489.00,636.2L489.50,636.2L489.50,628.3L490.00,628.3L490.00,629.3L490.50,629.3L490.50,633.4L491.00,633.4L491.00,634.3L491.50,634.3L491.50,640.5L492.00,640.5L492.00,631.2L492.50,631.2L492.50,636.7L493.00,636.7L493.00,632.6L493.50,632.6L493.50,634.5L494.00,634.5L494.00,629.4L494.50,629.4L494.50,636.1L495.00,636.1L495.00,634.7L495.50,634.7L495.50,635.2L496.00,635.2L496.00,637.4L496.50,637.4L496.50,628.3L497.00,628.3L497.00,622.2L497.50,622.2L497.50,623.2L498.00,623.2L498.00,635.4L498.50,635.4L498.50,629.9L499.00,629.9L499.00,635.1L499.50,635.1L499.50,639.1L500.00,639.1L500.00,620.7L500.50,620.7L500.50,621.7L501.00,621.7L501.00,621.3L501.50,621.3L501.50,622.3L502.00,622.3L502.00,625.3L502.50,625.3L502.50,626.3L503.00,626.3L503.00,630.6L503.50,630.6L503.50,629.5L504.00,629.5L504.00,641.2L504.50,641.2L504.50,635.8L505.00,635.8L505.00,638.6L505.50,638.6L505.50,638.0L506.00,638.0L506.00,630.1L506.50,630.1L506.50,634.8L507.00,634.8L507.00,621.6L507.50,621.6L507.50,622.6L508.00,622.6L508.00,635.6L508.50,635.6L508.50,640.1L509.00,640.1L509.00,642.8L509.50,642.8L509.50,639.6L510.00,639.6L510.00,639.8L510.50,639.8L510.50,646.2L511.00,646.2L511.00,642.0L511.50,642.0L511.50,641.9L512.00,641.9L512.00,645.0L512.50,645.0L512.50,643.8L513.00,643.8L513.00,645.9L513.50,645.9L513.50,645.3L514.00,645.3L514.00,644.8L514.50,644.8L514.50,642.3L515.00,642.3L515.00,642.0L515.50,642.0L515.50,645.4L516.00,645.4L516.00,648.2L516.50,648.2L516.50,644.4L517.00,644.4L517.00,642.1L517.50,642.1L517.50,645.8L518.00,645.8L518.00,644.7L518.50,644.7L518.50,645.7L519.00,645.7L519.00,641.6L519.50,641.6L519.50,643.1L520.00,643.1L520.00,647.4L520.50,647.4L520.50,646.8L521.00,646.8L521.00,644.0L521.50,644.0L521.50,642.9L522.00,642.9L522.00,629.9L522.50,629.9L522.50,630.9L523.00,630.9L523.00,645.7L523.50,645.7L523.50,641.6L524.00,641.6L524.00,643.4L524.50,643.4L524.50,644.4L525.00,644.4L525.00,644.1L525.50,644.1L525.50,639.6L526.00,639.6L526.00,643.9L526.50,643.9L526.50,641.8L527.00,641.8L527.00,643.3L527.50,643.3L527.50,642.8L528.00,642.8L528.00,639.6L528.50,639.6L528.50,638.7L529.00,638.7L529.00,642.9L529.50,642.9L529.50,644.4L530.00,644.4L530.00,640.1L530.50,640.1L530.50,644.5L531.00,644.5L531.00,647.8L531.50,647.8L531.50,639.6L532.00,639.6L532.00,643.0L532.50,643.0L532.50,640.5L533.00,640.5L533.00,643.4L533.50,643.4L533.50,640.6L534.00,640.6L534.00,643.4L534.50,643.4L534.50,646.0L535.00,646.0L535.00,648.3L535.50,648.3L535.50,643.3L536.00,643.3L536.00,638.1L536.50,638.1L536.50,639.1L537.00,639.1L537.00,647.5L537.50,647.5L537.50,643.6L538.00,643.6L538.00,645.4L538.50,645.4L538.50,644.7L539.00,644.7L539.00,647.5L539.50,647.5L539.50,646.5L540.00,646.5L540.00,645.1L540.50,645.1L540.50,643.3L541.00,643.3L541.00,648.4L541.50,648.4L541.50,645.8L542.00,645.8L542.00,644.5L542.50,644.5L542.50,644.0L543.00,644.0L543.00,648.2L543.50,648.2L543.50,648.9L544.00,648.9L544.00,644.8L544.50,644.8L544.50,644.9L545.00,644.9L545.00,647.1L545.50,647.1L545.50,650.0L546.00,650.0L546.00,645.5L546.50,645.5L546.50,647.9L547.00,647.9L547.00,645.8L547.50,645.8L547.50,647.0L548.00,647.0L548.00,646.3L548.50,646.3L548.50,649.5L549.00,649.5L549.00,646.6L549.50,646.6L549.50,649.2L550.00,649.2L550.00,648.4L550.50,648.4L550.50,646.7L551.00,646.7L551.00,646.9L551.50,646.9L551.50,649.8L552.00,649.8L552.00,641.9L552.50,641.9L552.50,642.9L553.00,642.9L553.00,648.4L553.50,648.4L553.50,649.0L554.00,649.0L554.00,650.5L554.50,650.5L554.50,649.8L555.00,649.8L555.00,641.2L555.50,641.2L555.50,642.2L556.00,642.2L556.00,651.2L556.50,651.2L556.50,648.3L557.00,648.3L557.00,647.5L557.50,647.5L557.50,651.0L558.00,651.0L558.00,647.1L558.50,647.1L558.50,650.2L559.00,650.2L559.00,647.7L559.50,647.7L559.50,647.8L560.00,647.8L560.00,647.4L560.50,647.4L560.50,648.8L561.00,648.8L561.00,648.1L561.50,648.1L561.50,647.3L562.00,647.3L562.00,647.9L562.50,647.9L562.50,646.8L563.00,646.8L563.00,647.6L563.50,647.6L563.50,647.6L564.00,647.6L564.00,650.5L564.50,650.5L564.50,646.6L565.00,646.6L565.00,647.1L565.50,647.1L565.50,645.5L566.00,645.5L566.00,637.8L566.50,637.8L566.50,633.6L567.00,633.6L567.00,633.2L567.50,633.2L567.50,636.8L568.00,636.8L568.00,631.6L568.50,631.6L568.50,637.3L569.00,637.3L569.00,636.2L569.50,636.2L569.50,630.0L570.00,630.0L570.00,636.1L570.50,636.1L570.50,630.6L571.00,630.6L571.00,631.1L571.50,631.1L571.50,616.1L572.00,616.1L572.00,617.1L572.50,617.1L572.50,641.6L573.00,641.6L573.00,635.0L573.50,635.0L573.50,637.2L574.00,637.2L574.00,641.6L574.50,641.6L574.50,647.8L575.00,647.8L575.00,646.1L575.50,646.1L575.50,645.0L576.00,645.0L576.00,646.0L576.50,646.0L576.50,651.9L577.00,651.9L577.00,649.8L577.50,649.8L577.50,649.5L578.00,649.5L578.00,650.2L578.50,650.2L578.50,650.0L579.00,650.0L579.00,651.8L579.50,651.8L579.50,649.7L580.00,649.7L580.00,650.9L580.50,650.9L580.50,649.8L581.00,649.8L581.00,650.0L581.50,650.0L581.50,646.2L582.00,646.2L582.00,647.2L582.50,647.2L582.50,650.1L583.00,650.1L583.00,652.6L583.50,652.6L583.50,651.5L584.00,651.5L584.00,650.5L584.50,650.5L584.50,652.2L585.00,652.2L585.00,650.3L585.50,650.3L585.50,651.9L586.00,651.9L586.00,650.6L586.50,650.6L586.50,652.4L587.00,652.4L587.00,651.3L587.50,651.3L587.50,650.5L588.00,650.5L588.00,652.2L588.50,652.2L588.50,652.1L589.00,652.1L589.00,651.4L589.50,651.4L589.50,652.0L590.00,652.0L590.00,653.1L590.50,653.1L590.50,652.5L591.00,652.5L591.00,652.6L591.50,652.6L591.50,650.8L592.00,650.8L592.00,651.3L592.50,651.3L592.50,651.0L593.00,651.0L593.00,652.7L593.50,652.7L593.50,651.3L594.00,651.3L594.00,652.9L594.50,652.9L594.50,651.9L595.00,651.9L595.00,651.7L595.50,651.7L595.50,652.3L596.00,652.3L596.00,651.4L596.50,651.4L596.50,652.0L597.00,652.0L597.00,652.0L597.50,652.0L597.50,651.5L598.00,651.5L598.00,653.2L598.50,653.2L598.50,651.4L599.00,651.4L599.00,652.1L599.50,652.1L599.50,652.6L600.00,652.6L600.00,651.9L600.50,651.9L600.50,652.8L601.00,652.8L601.00,651.4L601.50,651.4L601.50,652.0L602.00,652.0L602.00,652.4L602.50,652.4L602.50,651.5L603.00,651.5L603.00,652.0L603.50,652.0L603.50,652.7L604.00,652.7L604.00,651.2L604.50,651.2L604.50,653.1L605.00,653.1L605.00,650.8L605.50,650.8L605.50,652.1L606.00,652.1L606.00,651.0L606.50,651.0L606.50,650.2L607.00,650.2L607.00,650.9L607.50,650.9L607.50,650.7L608.00,650.7L608.00,651.5L608.50,651.5L608.50,653.1L609.00,653.1L609.00,652.6L609.50,652.6L609.50,651.9L610.00,651.9L610.00,650.3L610.50,650.3L610.50,649.4L611.00,649.4L611.00,644.1L611.50,644.1L611.50,644.3L612.00,644.3L612.00,632.7L612.50,632.7L612.50,633.7L613.00,633.7L613.00,640.6L613.50,640.6L613.50,646.6L614.00,646.6L614.00,647.0L614.50,647.0L614.50,641.2L615.00,641.2L615.00,643.7L615.50,643.7L615.50,640.1L616.00,640.1L616.00,641.1L616.50,641.1L616.50,637.9L617.00,637.9L617.00,638.5L617.50,638.5L617.50,587.0L618.00,587.0L618.00,587.0L618.50,587.0L618.50,587.0L619.00,587.0L619.00,645.1L619.50,645.1L619.50,633.7L620.00,633.7L620.00,634.7L620.50,634.7L620.50,648.4L621.00,648.4L621.00,650.0L621.50,650.0L621.50,641.5L622.00,641.5L622.00,642.5L622.50,642.5L622.50,649.8L623.00,649.8L623.00,650.7L623.50,650.7L623.50,651.1L624.00,651.1L624.00,652.5L624.50,652.5L624.50,649.6L625.00,649.6L625.00,649.8L625.50,649.8L625.50,650.4L626.00,650.4L626.00,649.3L626.50,649.3L626.50,649.8L627.00,649.8L627.00,648.2L627.50,648.2L627.50,648.6L628.00,648.6L628.00,650.3L628.50,650.3L628.50,647.9L629.00,647.9L629.00,651.4L629.50,651.4L629.50,648.8L630.00,648.8L630.00,649.2L630.50,649.2L630.50,649.9L631.00,649.9L631.00,650.9L631.50,650.9L631.50,647.4L632.00,647.4L632.00,651.3L632.50,651.3L632.50,648.0L633.00,648.0L633.00,646.4L633.50,646.4L633.50,649.8L634.00,649.8L634.00,641.7L634.50,641.7L634.50,642.7L635.00,642.7L635.00,647.5L635.50,647.5L635.50,646.7L636.00,646.7L636.00,639.5L636.50,639.5L636.50,640.5L637.00,640.5L637.00,648.0L637.50,648.0L637.50,647.9L638.00,647.9L638.00,649.8L638.50,649.8L638.50,644.8L639.00,644.8L639.00,645.1L639.50,645.1L639.50,645.3L640.00,645.3L640.00,650.2L640.50,650.2L640.50,644.4L641.00,644.4L641.00,644.8L641.50,644.8L641.50,646.1L642.00,646.1L642.00,644.6L642.50,644.6L642.50,646.0L643.00,646.0L643.00,647.3L643.50,647.3L643.50,648.3L644.00,648.3L644.00,647.2L644.50,647.2L644.50,636.7L645.00,636.7L645.00,637.7L645.50,637.7L645.50,643.8L646.00,643.8L646.00,644.0L646.50,644.0L646.50,643.2L647.00,643.2L647.00,643.7L647.50,643.7L647.50,646.4L648.00,646.4L648.00,644.4L648.50,644.4L648.50,645.0L649.00,645.0L649.00,642.9L649.50,642.9L649.50,644.3L650.00,644.3L650.00,634.1L650.50,634.1L650.50,635.1L651.00,635.1L651.00,642.1L651.50,642.1L651.50,646.6L652.00,646.6L652.00,642.7L652.50,642.7L652.50,649.1L653.00,649.1L653.00,634.6L653.50,634.6L653.50,635.6L654.00,635.6L654.00,643.8L654.50,643.8L654.50,642.9L655.00,642.9L655.00,644.0L655.50,644.0L655.50,646.4L656.00,646.4L656.00,643.5L656.50,643.5L656.50,646.6L657.00,646.6L657.00,647.2L657.50,647.2L657.50,643.7L658.00,643.7L658.00,645.1L658.50,645.1L658.50,644.9L659.00,644.9L659.00,645.1L659.50,645.1L659.50,643.9L660.00,643.9L660.00,646.3L660.50,646.3L660.50,644.2L661.00,644.2L661.00,644.6L661.50,644.6L661.50,643.5L662.00,643.5L662.00,645.4L662.50,645.4L662.50,643.6L663.00,643.6L663.00,644.1L663.50,644.1L663.50,645.6L664.00,645.6L664.00,646.1L664.50,646.1L664.50,643.0L665.00,643.0L665.00,647.2L665.50,647.2L665.50,639.3L666.00,639.3L666.00,644.1L666.50,644.1L666.50,645.2L667.00,645.2L667.00,642.4L667.50,642.4L667.50,632.0L668.00,632.0L668.00,636.4L668.50,636.4L668.50,638.7L669.00,638.7L669.00,640.9L669.50,640.9L669.50,639.7L670.00,639.7L670.00,627.5L670.50,627.5L670.50,627.1L671.00,627.1L671.00,625.0L671.50,625.0L671.50,623.3L672.00,623.3L672.00,635.0L672.50,635.0L672.50,624.5L673.00,624.5L673.00,607.2L673.50,607.2L673.50,608.2L674.00,608.2L674.00,622.4L674.50,622.4L674.50,621.9L675.00,621.9L675.00,636.4L675.50,636.4L675.50,623.0L676.00,623.0L676.00,622.9L676.50,622.9L676.50,626.6L677.00,626.6L677.00,640.6L677.50,640.6L677.50,641.5L678.00,641.5L678.00,645.4L678.50,645.4L678.50,646.8L679.00,646.8L679.00,639.7L679.50,639.7L679.50,640.2L680.00,640.2L680.00,641.5L680.50,641.5L680.50,640.5L681.00,640.5L681.00,641.9L681.50,641.9L681.50,644.6L682.00,644.6L682.00,646.7L682.50,646.7L682.50,646.8L683.00,646.8L683.00,642.0L683.50,642.0L683.50,646.0L684.00,646.0L684.00,645.2L684.50,645.2L684.50,644.6L685.00,644.6L685.00,648.7L685.50,648.7L685.50,646.1L686.00,646.1L686.00,646.1L686.50,646.1L686.50,639.3L687.00,639.3L687.00,640.3L687.50,640.3L687.50,646.3L688.00,646.3L688.00,643.1L688.50,643.1L688.50,645.6L689.00,645.6L689.00,644.1L689.50,644.1L689.50,645.4L690.00,645.4L690.00,649.7L690.50,649.7L690.50,646.7L691.00,646.7L691.00,646.6L691.50,646.6L691.50,645.0L692.00,645.0L692.00,647.2L692.50,647.2L692.50,645.4L693.00,645.4L693.00,646.2L693.50,646.2L693.50,648.1L694.00,648.1L694.00,644.9L694.50,644.9L694.50,649.2L695.00,649.2L695.00,640.1L695.50,640.1L695.50,641.1L696.00,641.1L696.00,650.7L696.50,650.7L696.50,648.4L697.00,648.4L697.00,645.6L697.50,645.6L697.50,644.8L698.00,644.8L698.00,650.7L698.50,650.7L698.50,647.0L699.00,647.0L699.00,647.0L699.50,647.0L699.50,645.7L700.00,645.7L700.00,648.8L700.50,648.8L700.50,647.0L701.00,647.0L701.00,647.7L701.50,647.7L701.50,645.5L702.00,645.5L702.00,648.2L702.50,648.2L702.50,644.9L703.00,644.9L703.00,647.9L703.50,647.9L703.50,648.4L704.00,648.4L704.00,645.8L704.50,645.8L704.50,646.6L705.00,646.6L705.00,649.1L705.50,649.1L705.50,645.9L706.00,645.9L706.00,649.3L706.50,649.3L706.50,645.1L707.00,645.1L707.00,638.7L707.50,638.7L707.50,639.7L708.00,639.7L708.00,645.7L708.50,645.7L708.50,647.1L709.00,647.1L709.00,646.8L709.50,646.8L709.50,646.8L710.00,646.8L710.00,644.3L710.50,644.3L710.50,648.5L711.00,648.5L711.00,642.7L711.50,642.7L711.50,648.4L712.00,648.4L712.00,645.6L712.50,645.6L712.50,644.5L713.00,644.5L713.00,639.2L713.50,639.2L713.50,641.1L714.00,641.1L714.00,626.8L714.50,626.8L714.50,627.8L715.00,627.8L715.00,641.7L715.50,641.7L715.50,636.9L716.00,636.9L716.00,633.5L716.50,633.5L716.50,628.3L717.00,628.3L717.00,625.5L717.50,625.5L717.50,624.1L718.00,624.1L718.00,626.5L718.50,626.5L718.50,627.6L719.00,627.6L719.00,632.1L719.50,632.1L719.50,621.1L720.00,621.1L720.00,624.4L720.50,624.4L720.50,624.1L721.00,624.1L721.00,634.1L721.50,634.1L721.50,630.8L722.00,630.8L722.00,628.4L722.50,628.4L722.50,632.3L723.00,632.3L723.00,640.2L723.50,640.2L723.50,637.0L724.00,637.0L724.00,635.1L724.50,635.1L724.50,642.5L725.00,642.5L725.00,644.4L725.50,644.4L725.50,643.2L726.00,643.2L726.00,639.8L726.50,639.8L726.50,638.7L727.00,638.7L727.00,624.2L727.50,624.2L727.50,625.2L728.00,625.2L728.00,642.9L728.50,642.9L728.50,642.0L729.00,642.0L729.00,640.0L729.50,640.0L729.50,643.5L730.00,643.5L730.00,641.5L730.50,641.5L730.50,642.9L731.00,642.9L731.00,635.9L731.50,635.9L731.50,637.5L732.00,637.5L732.00,643.7L732.50,643.7L732.50,635.4L733.00,635.4L733.00,643.5L733.50,643.5L733.50,639.7L734.00,639.7L734.00,634.6L734.50,634.6L734.50,635.7L735.00,635.7L735.00,636.0L735.50,636.0L735.50,638.5L736.00,638.5L736.00,641.2L736.50,641.2L736.50,636.3L737.00,636.3L737.00,642.3L737.50,642.3L737.50,640.6L738.00,640.6L738.00,638.2L738.50,638.2L738.50,643.6L739.00,643.6L739.00,637.7L739.50,637.7L739.50,633.7L740.00,633.7L740.00,634.4L740.50,634.4L740.50,636.2L741.00,636.2L741.00,634.8L741.50,634.8L741.50,636.4L742.00,636.4L742.00,640.6L742.50,640.6L742.50,634.8L743.00,634.8L743.00,636.8L743.50,636.8L743.50,633.3L744.00,633.3L744.00,631.7L744.50,631.7L744.50,636.3L745.00,636.3L745.00,634.6L745.50,634.6L745.50,633.5L746.00,633.5L746.00,637.3L746.50,637.3L746.50,640.2L747.00,640.2L747.00,635.5L747.50,635.5L747.50,634.9L748.00,634.9L748.00,636.3L748.50,636.3L748.50,637.5L749.00,637.5L749.00,637.0L749.50,637.0L749.50,638.8L750.00,638.8L750.00,625.3L750.50,625.3L750.50,626.3L751.00,626.3L751.00,642.9L751.50,642.9L751.50,640.6L752.00,640.6L752.00,645.7L752.50,645.7L752.50,642.7L753.00,642.7L753.00,640.5L753.50,640.5L753.50,641.3L754.00,641.3L754.00,642.1L754.50,642.1L754.50,645.1L755.00,645.1L755.00,644.0L755.50,644.0L755.50,644.0L756.00,644.0L756.00,643.3L756.50,643.3L756.50,644.9L757.00,644.9L757.00,643.5L757.50,643.5L757.50,642.6L758.00,642.6L758.00,647.3L758.50,647.3L758.50,644.5L759.00,644.5L759.00,644.2L759.50,644.2L759.50,646.5L760.00,646.5L760.00,646.2L760.50,646.2L760.50,644.3L761.00,644.3L761.00,649.9L761.50,649.9L761.50,646.7L762.00,646.7L762.00,649.1L762.50,649.1L762.50,646.3L763.00,646.3L763.00,646.1L763.50,646.1L763.50,647.9L764.00,647.9L764.00,640.6L764.50,640.6L764.50,641.6L765.00,641.6L765.00,648.7L765.50,648.7L765.50,645.1L766.00,645.1L766.00,643.4L766.50,643.4L766.50,639.7L767.00,639.7L767.00,635.3L767.50,635.3L767.50,635.2L768.00,635.2L768.00,633.9L768.50,633.9L768.50,625.5L769.00,625.5L769.00,633.6L769.50,633.6L769.50,624.0L770.00,624.0L770.00,626.5L770.50,626.5L770.50,622.8L771.00,622.8L771.00,610.9L771.50,610.9L771.50,611.9L772.00,611.9L772.00,634.2L772.50,634.2L772.50,641.2L773.00,641.2L773.00,638.7L773.50,638.7L773.50,639.0L774.00,639.0L774.00,646.2L774.50,646.2L774.50,641.1L775.00,641.1L775.00,641.6L775.50,641.6L775.50,640.0L776.00,640.0L776.00,643.1L776.50,643.1L776.50,644.4L777.00,644.4L777.00,645.2L777.50,645.2L777.50,642.1L778.00,642.1L778.00,641.6L778.50,641.6L778.50,644.4L779.00,644.4L779.00,647.0L779.50,647.0L779.50,644.1L780.00,644.1L780.00,646.7L780.50,646.7L780.50,647.7L781.00,647.7L781.00,648.1L781.50,648.1L781.50,643.9L782.00,643.9L782.00,643.4L782.50,643.4L782.50,644.0L783.00,644.0L783.00,644.7L783.50,644.7L783.50,643.8L784.00,643.8L784.00,645.9L784.50,645.9L784.50,641.0L785.00,641.0L785.00,644.4L785.50,644.4L785.50,642.2L786.00,642.2L786.00,640.8L786.50,640.8L786.50,640.5L787.00,640.5L787.00,642.5L787.50,642.5L787.50,630.6L788.00,630.6L788.00,631.6L788.50,631.6L788.50,642.2L789.00,642.2L789.00,630.1L789.50,630.1L789.50,631.7L790.00,631.7L790.00,620.5L790.50,620.5L790.50,629.4L791.00,629.4L791.00,626.8L791.50,626.8L791.50,628.9L792.00,628.9L792.00,625.1L792.50,625.1L792.50,629.8L793.00,629.8L793.00,636.9L793.50,636.9L793.50,618.7L794.00,618.7L794.00,626.3L794.50,626.3L794.50,628.3L795.00,628.3L795.00,628.3L795.50,628.3L795.50,626.3L796.00,626.3L796.00,628.5L796.50,628.5L796.50,626.8L797.00,626.8L797.00,627.9L797.50,627.9L797.50,613.1L798.00,613.1L798.00,614.1L798.50,614.1L798.50,632.7L799.00,632.7L799.00,644.8L799.50,644.8L799.50,640.7L800.00,640.7L800.00,644.3L800.50,644.3L800.50,644.4L801.00,644.4L801.00,647.9L801.50,647.9L801.50,643.3L802.00,643.3L802.00,643.9L802.50,643.9L802.50,648.8L803.00,648.8L803.00,648.7L803.50,648.7L803.50,640.9L804.00,640.9L804.00,642.2L804.50,642.2L804.50,644.8L805.00,644.8L805.00,646.1L805.50,646.1L805.50,645.3L806.00,645.3L806.00,644.0L806.50,644.0L806.50,638.5L807.00,638.5L807.00,640.9L807.50,640.9L807.50,642.3L808.00,642.3L808.00,633.6L808.50,633.6L808.50,633.3L809.00,633.3L809.00,639.4L809.50,639.4L809.50,629.8L810.00,629.8L810.00,631.4L810.50,631.4L810.50,624.5L811.00,624.5L811.00,621.0L811.50,621.0L811.50,612.5L812.00,612.5L812.00,609.1L812.50,609.1L812.50,603.0L813.00,603.0L813.00,615.3L813.50,615.3L813.50,595.3L814.00,595.3L814.00,594.4L814.50,594.4L814.50,582.4L815.00,582.4L815.00,554.7L815.50,554.7L815.50,555.7L816.00,555.7L816.00,560.0L816.50,560.0L816.50,560.0L817.00,560.0L817.00,560.0L817.50,560.0L817.50,560.0L818.00,560.0L818.00,560.0L818.50,560.0L818.50,560.0L819.00,560.0L819.00,560.0L819.50,560.0L819.50,560.5L820.00,560.5L820.00,561.5L820.50,561.5L820.50,600.7L821.00,600.7L821.00,603.3L821.50,603.3L821.50,599.9L822.00,599.9L822.00,629.9L822.50,629.9L822.50,609.0L823.00,609.0L823.00,619.9L823.50,619.9L823.50,620.7L824.00,620.7L824.00,621.7L824.50,621.7L824.50,622.2L825.00,622.2L825.00,631.3L825.50,631.3L825.50,633.0L826.00,633.0L826.00,629.9L826.50,629.9L826.50,617.6L827.00,617.6L827.00,618.6L827.50,618.6L827.50,634.5L828.00,634.5L828.00,643.4L828.50,643.4L828.50,635.7L829.00,635.7L829.00,635.5L829.50,635.5L829.50,634.0L830.00,634.0L830.00,618.8L830.50,618.8L830.50,619.8L831.00,619.8L831.00,636.6L831.50,636.6L831.50,636.2L832.00,636.2L832.00,631.6L832.50,631.6L832.50,642.3L833.00,642.3L833.00,631.7L833.50,631.7L833.50,631.9L834.00,631.9L834.00,634.9L834.50,634.9L834.50,620.9L835.00,620.9L835.00,622.0L835.50,622.0L835.50,613.1L836.00,613.1L836.00,605.2L836.50,605.2L836.50,592.9L837.00,592.9L837.00,605.6L837.50,605.6L837.50,591.4L838.00,591.4L838.00,586.5L838.50,586.5L838.50,579.1L839.00,579.1L839.00,567.0L839.50,567.0L839.50,586.3L840.00,586.3L840.00,561.8L840.50,561.8L840.50,576.7L841.00,576.7L841.00,569.8L841.50,569.8L841.50,579.7L842.00,579.7L842.00,565.2L842.50,565.2L842.50,544.5L843.00,544.5L843.00,556.3L843.50,556.3L843.50,549.2L844.00,549.2L844.00,570.5L844.50,570.5L844.50,570.4L845.00,570.4L845.00,570.6L845.50,570.6L845.50,557.6L846.00,557.6L846.00,558.1L846.50,558.1L846.50,554.7L847.00,554.7L847.00,599.3L847.50,599.3L847.50,562.8L848.00,562.8L848.00,559.7L848.50,559.7L848.50,573.7L849.00,573.7L849.00,603.0L849.50,603.0L849.50,586.9L850.00,586.9L850.00,610.6L850.50,610.6L850.50,594.9L851.00,594.9L851.00,566.6L851.50,566.6L851.50,578.2L852.00,578.2L852.00,577.7L852.50,577.7L852.50,574.6L853.00,574.6L853.00,572.2L853.50,572.2L853.50,582.9L854.00,582.9L854.00,583.9L854.50,583.9L854.50,584.7L855.00,584.7L855.00,583.8L855.50,583.8L855.50,588.1L856.00,588.1L856.00,586.7L856.50,586.7L856.50,604.3L857.00,604.3L857.00,588.8L857.50,588.8L857.50,596.1L858.00,596.1L858.00,587.8L858.50,587.8L858.50,612.6L859.00,612.6L859.00,609.0L859.50,609.0L859.50,618.2L860.00,618.2L860.00,591.1L860.50,591.1L860.50,588.3L861.00,588.3L861.00,595.3L861.50,595.3L861.50,604.4L862.00,604.4L862.00,592.3L862.50,592.3L862.50,593.8L863.00,593.8L863.00,600.2L863.50,600.2L863.50,610.2L864.00,610.2L864.00,609.1L864.50,609.1L864.50,605.8L865.00,605.8L865.00,609.5L865.50,609.5L865.50,606.7L866.00,606.7L866.00,601.8L866.50,601.8L866.50,596.0L867.00,596.0L867.00,622.7L867.50,622.7L867.50,605.7L868.00,605.7L868.00,580.5L868.50,580.5L868.50,581.5L869.00,581.5L869.00,589.6L869.50,589.6L869.50,610.1L870.00,610.1L870.00,606.1L870.50,606.1L870.50,617.7L871.00,617.7L871.00,633.4L871.50,633.4L871.50,623.5L872.00,623.5L872.00,622.2L872.50,622.2L872.50,618.8L873.00,618.8L873.00,619.9L873.50,619.9L873.50,628.2L874.00,628.2L874.00,630.4L874.50,630.4L874.50,637.4L875.00,637.4L875.00,630.1L875.50,630.1L875.50,637.2L876.00,637.2L876.00,639.4L876.50,639.4L876.50,643.0L877.00,643.0L877.00,643.7L877.50,643.7L877.50,633.3L878.00,633.3L878.00,615.2L878.50,615.2L878.50,616.2L879.00,616.2L879.00,641.6L879.50,641.6L879.50,632.6L880.00,632.6L880.00,641.1L880.50,641.1L880.50,643.9L881.00,643.9L881.00,634.4L881.50,634.4L881.50,639.6L882.00,639.6L882.00,634.4L882.50,634.4L882.50,640.5L883.00,640.5L883.00,643.2L883.50,643.2L883.50,634.4L884.00,634.4L884.00,635.0L884.50,635.0L884.50,633.9L885.00,633.9L885.00,635.1L885.50,635.1L885.50,642.9L886.00,642.9L886.00,636.7L886.50,636.7L886.50,636.4L887.00,636.4L887.00,630.3L887.50,630.3L887.50,631.3L888.00,631.3L888.00,641.8L888.50,641.8L888.50,585.0L889.00,585.0L889.00,585.0L889.50,585.0L889.50,585.0L890.00,585.0L890.00,646.7L890.50,646.7L890.50,639.7L891.00,639.7L891.00,638.6L891.50,638.6L891.50,645.4L892.00,645.4L892.00,642.6L892.50,642.6L892.50,639.3L893.00,639.3L893.00,644.2L893.50,644.2L893.50,638.5L894.00,638.5L894.00,641.2L894.50,641.2L894.50,645.9L895.00,645.9L895.00,642.3L895.50,642.3L895.50,640.7L896.00,640.7L896.00,641.8L896.50,641.8L896.50,640.1L897.00,640.1L897.00,644.8L897.50,644.8L897.50,639.4L898.00,639.4L898.00,642.6L898.50,642.6L898.50,640.5L899.00,640.5L899.00,640.6L899.50,640.6L899.50,642.3L900.00,642.3L900.00,642.6L900.50,642.6L900.50,639.5L901.00,639.5L901.00,638.3L901.50,638.3L901.50,639.1L902.00,639.1L902.00,640.4L902.50,640.4L902.50,642.6L903.00,642.6L903.00,645.5L903.50,645.5L903.50,637.0L904.00,637.0L904.00,638.7L904.50,638.7L904.50,637.6L905.00,637.6L905.00,641.4L905.50,641.4L905.50,630.0L906.00,630.0L906.00,631.0L906.50,631.0L906.50,636.7L907.00,636.7L907.00,638.3L907.50,638.3L907.50,640.9L908.00,640.9L908.00,639.5L908.50,639.5L908.50,635.5L909.00,635.5L909.00,627.1L909.50,627.1L909.50,628.1L910.00,628.1L910.00,637.2L910.50,637.2L910.50,634.1L911.00,634.1L911.00,634.2L911.50,634.2L911.50,639.0L912.00,639.0L912.00,644.5L912.50,644.5L912.50,638.3L913.00,638.3L913.00,635.8L913.50,635.8L913.50,633.4L914.00,633.4L914.00,630.4L914.50,630.4L914.50,629.1L915.00,629.1L915.00,640.7L915.50,640.7L915.50,628.8L916.00,628.8L916.00,628.8L916.50,628.8L916.50,628.0L917.00,628.0L917.00,631.1L917.50,631.1L917.50,635.1L918.00,635.1L918.00,627.6L918.50,627.6L918.50,627.8L919.00,627.8L919.00,629.0L919.50,629.0L919.50,626.3L920.00,626.3L920.00,633.1L920.50,633.1L920.50,638.0L921.00,638.0L921.00,629.7L921.50,629.7L921.50,626.4L922.00,626.4L922.00,634.7L922.50,634.7L922.50,626.4L923.00,626.4L923.00,624.0L923.50,624.0L923.50,633.4L924.00,633.4L924.00,627.3L924.50,627.3L924.50,626.1L925.00,626.1L925.00,628.7L925.50,628.7L925.50,632.5L926.00,632.5L926.00,630.8L926.50,630.8L926.50,621.8L927.00,621.8L927.00,620.2L927.50,620.2L927.50,624.4L928.00,624.4L928.00,632.3L928.50,632.3L928.50,617.0L929.00,617.0L929.00,616.5L929.50,616.5L929.50,626.0L930.00,626.0L930.00,617.8L930.50,617.8L930.50,611.4L931.00,611.4L931.00,610.5L931.50,610.5L931.50,616.1L932.00,616.1L932.00,616.2L932.50,616.2L932.50,612.9L933.00,612.9L933.00,622.1L933.50,622.1L933.50,621.3L934.00,621.3L934.00,621.0L934.50,621.0L934.50,606.8L935.00,606.8L935.00,613.8L935.50,613.8L935.50,609.4L936.00,609.4L936.00,614.0L936.50,614.0L936.50,611.8L937.00,611.8L937.00,622.7L937.50,622.7L937.50,627.8L938.00,627.8L938.00,604.6L938.50,604.6L938.50,617.6L939.00,617.6L939.00,626.2L939.50,626.2L939.50,613.3L940.00,613.3L940.00,611.1L940.50,611.1L940.50,626.5L941.00,626.5L941.00,617.6L941.50,617.6L941.50,624.0L942.00,624.0L942.00,622.0L942.50,622.0L942.50,598.0L943.00,598.0L943.00,599.0L943.50,599.0L943.50,620.0L944.00,620.0L944.00,623.2L944.50,623.2L944.50,629.7L945.00,629.7L945.00,630.0L945.50,630.0L945.50,635.3L946.00,635.3L946.00,629.6L946.50,629.6L946.50,634.5L947.00,634.5L947.00,630.1L947.50,630.1L947.50,632.7L948.00,632.7L948.00,633.3L948.50,633.3L948.50,633.2L949.00,633.2L949.00,640.7L949.50,640.7L949.50,644.9L950.00,644.9L950.00,642.9L950.50,642.9L950.50,643.3L951.00,643.3L951.00,644.8L951.50,644.8L951.50,645.5L952.00,645.5L952.00,640.1L952.50,640.1L952.50,638.1L953.00,638.1L953.00,641.3L953.50,641.3L953.50,638.1L954.00,638.1L954.00,638.5L954.50,638.5L954.50,646.0L955.00,646.0L955.00,640.9L955.50,640.9L955.50,642.7L956.00,642.7L956.00,645.6L956.50,645.6L956.50,639.3L957.00,639.3L957.00,644.4L957.50,644.4L957.50,642.1L958.00,642.1L958.00,641.8L958.50,641.8L958.50,640.2L959.00,640.2L959.00,642.0L959.50,642.0L959.50,644.0L960.00,644.0L960.00,643.8L960.50,643.8L960.50,645.8L961.00,645.8L961.00,639.5L961.50,639.5L961.50,638.7L962.00,638.7L962.00,643.8L962.50,643.8L962.50,646.1L963.00,646.1L963.00,642.5L963.50,642.5L963.50,641.1L964.00,641.1L964.00,636.0L964.50,636.0L964.50,635.3L965.00,635.3L965.00,635.2L965.50,635.2L965.50,643.4L966.00,643.4L966.00,633.4L966.50,633.4L966.50,633.0L967.00,633.0L967.00,632.5L967.50,632.5L967.50,628.1L968.00,628.1L968.00,639.9L968.50,639.9L968.50,636.9L969.00,636.9L969.00,627.0L969.50,627.0L969.50,623.8L970.00,623.8L970.00,625.8L970.50,625.8L970.50,632.1L971.00,632.1L971.00,628.5L971.50,628.5L971.50,627.3L972.00,627.3L972.00,637.9L972.50,637.9L972.50,634.4L973.00,634.4L973.00,636.1L973.50,636.1L973.50,638.5L974.00,638.5L974.00,376.5L974.50,376.5L974.50,376.5L975.00,376.5L975.00,376.5L975.50,376.5L975.50,376.5L976.00,376.5L975.5,656Z" fill="#1fc47e"/>
<rect x="81.70" y="633.0" width="1.2" height="23.0" fill="#1fc47e" fill-opacity="0.92"/>
<rect x="88.40" y="615.0" width="1.2" height="41.0" fill="#1fc47e" fill-opacity="0.92"/>
<rect x="93.40" y="636.5" width="1.2" height="19.5" fill="#1fc47e" fill-opacity="0.92"/>
<rect x="98.90" y="636.5" width="1.2" height="19.5" fill="#1fc47e" fill-opacity="0.92"/>
<rect x="103.70" y="631.0" width="1.2" height="25.0" fill="#1fc47e" fill-opacity="0.92"/>
<rect x="107.00" y="585.0" width="1.2" height="71.0" fill="#1fc47e" fill-opacity="0.92"/>
<rect x="110.60" y="638.0" width="1.2" height="18.0" fill="#1fc47e" fill-opacity="0.92"/>
<rect x="114.70" y="640.0" width="1.2" height="16.0" fill="#1fc47e" fill-opacity="0.92"/>
<rect x="118.70" y="641.0" width="1.2" height="15.0" fill="#1fc47e" fill-opacity="0.92"/>
<rect x="122.90" y="586.0" width="1.2" height="70.0" fill="#1fc47e" fill-opacity="0.92"/>
<rect x="126.80" y="642.0" width="1.2" height="14.0" fill="#1fc47e" fill-opacity="0.92"/>
<rect x="130.80" y="543.5" width="1.2" height="112.5" fill="#1fc47e" fill-opacity="0.92"/>
<rect x="134.10" y="633.0" width="1.2" height="23.0" fill="#1fc47e" fill-opacity="0.92"/>
<rect x="138.60" y="604.0" width="1.2" height="52.0" fill="#1fc47e" fill-opacity="0.92"/>
<rect x="140.70" y="635.0" width="1.2" height="21.0" fill="#1fc47e" fill-opacity="0.92"/>
<rect x="144.90" y="644.0" width="1.2" height="12.0" fill="#1fc47e" fill-opacity="0.92"/>
<rect x="149.40" y="634.7" width="1.2" height="21.3" fill="#1fc47e" fill-opacity="0.92"/>
<rect x="156.60" y="638.0" width="1.2" height="18.0" fill="#1fc47e" fill-opacity="0.92"/>
<rect x="160.20" y="640.0" width="1.2" height="16.0" fill="#1fc47e" fill-opacity="0.92"/>
<rect x="169.30" y="645.0" width="1.2" height="11.0" fill="#1fc47e" fill-opacity="0.92"/>
<rect x="173.80" y="645.0" width="1.2" height="11.0" fill="#1fc47e" fill-opacity="0.92"/>
<rect x="185.30" y="640.0" width="1.2" height="16.0" fill="#1fc47e" fill-opacity="0.92"/>
<rect x="188.00" y="636.5" width="1.2" height="19.5" fill="#1fc47e" fill-opacity="0.92"/>
<rect x="194.70" y="609.4" width="1.2" height="46.6" fill="#1fc47e" fill-opacity="0.92"/>
<rect x="198.80" y="580.5" width="1.2" height="75.5" fill="#1fc47e" fill-opacity="0.92"/>
<rect x="205.10" y="631.0" width="1.2" height="25.0" fill="#1fc47e" fill-opacity="0.92"/>
<rect x="207.80" y="634.0" width="1.2" height="22.0" fill="#1fc47e" fill-opacity="0.92"/>
<rect x="211.80" y="623.0" width="1.2" height="33.0" fill="#1fc47e" fill-opacity="0.92"/>
<rect x="220.80" y="633.8" width="1.2" height="22.2" fill="#1fc47e" fill-opacity="0.92"/>
<rect x="227.20" y="635.0" width="1.2" height="21.0" fill="#1fc47e" fill-opacity="0.92"/>
<rect x="230.80" y="624.0" width="1.2" height="32.0" fill="#1fc47e" fill-opacity="0.92"/>
<rect x="237.30" y="568.0" width="1.2" height="88.0" fill="#1fc47e" fill-opacity="0.92"/>
<rect x="240.70" y="626.6" width="1.2" height="29.4" fill="#1fc47e" fill-opacity="0.92"/>
<rect x="245.20" y="616.6" width="1.2" height="39.4" fill="#1fc47e" fill-opacity="0.92"/>
<rect x="248.30" y="635.0" width="1.2" height="21.0" fill="#1fc47e" fill-opacity="0.92"/>
<rect x="254.20" y="636.5" width="1.2" height="19.5" fill="#1fc47e" fill-opacity="0.92"/>
<rect x="266.30" y="587.8" width="1.2" height="68.2" fill="#1fc47e" fill-opacity="0.92"/>
<rect x="272.40" y="599.0" width="1.2" height="57.0" fill="#1fc47e" fill-opacity="0.92"/>
<rect x="283.90" y="602.0" width="1.2" height="54.0" fill="#1fc47e" fill-opacity="0.92"/>
<rect x="288.70" y="584.0" width="1.2" height="72.0" fill="#1fc47e" fill-opacity="0.92"/>
<rect x="297.40" y="584.0" width="1.2" height="72.0" fill="#1fc47e" fill-opacity="0.92"/>
<rect x="317.40" y="594.0" width="1.2" height="62.0" fill="#1fc47e" fill-opacity="0.92"/>
<rect x="328.40" y="551.0" width="1.2" height="105.0" fill="#1fc47e" fill-opacity="0.92"/>
<rect x="331.40" y="588.0" width="1.2" height="68.0" fill="#1fc47e" fill-opacity="0.92"/>
<rect x="346.40" y="625.0" width="1.2" height="31.0" fill="#1fc47e" fill-opacity="0.92"/>
<rect x="358.80" y="555.0" width="1.2" height="101.0" fill="#1fc47e" fill-opacity="0.92"/>
<rect x="360.40" y="435.0" width="1.2" height="221.0" fill="#1fc47e" fill-opacity="0.92"/>
<rect x="357.40" y="617.0" width="1.2" height="39.0" fill="#1fc47e" fill-opacity="0.92"/>
<rect x="364.40" y="623.0" width="1.2" height="33.0" fill="#1fc47e" fill-opacity="0.92"/>
<rect x="371.10" y="630.0" width="1.2" height="26.0" fill="#1fc47e" fill-opacity="0.92"/>
<rect x="382.40" y="627.0" width="1.2" height="29.0" fill="#1fc47e" fill-opacity="0.92"/>
<rect x="384.40" y="617.0" width="1.2" height="39.0" fill="#1fc47e" fill-opacity="0.92"/>
<rect x="390.40" y="620.0" width="1.2" height="36.0" fill="#1fc47e" fill-opacity="0.92"/>
<rect x="397.10" y="600.0" width="1.2" height="56.0" fill="#1fc47e" fill-opacity="0.92"/>
<rect x="403.70" y="563.0" width="1.2" height="93.0" fill="#1fc47e" fill-opacity="0.92"/>
<rect x="409.40" y="617.0" width="1.2" height="39.0" fill="#1fc47e" fill-opacity="0.92"/>
<rect x="411.10" y="608.0" width="1.2" height="48.0" fill="#1fc47e" fill-opacity="0.92"/>
<rect x="413.70" y="537.0" width="1.2" height="119.0" fill="#1fc47e" fill-opacity="0.92"/>
<rect x="414.40" y="573.0" width="1.2" height="83.0" fill="#1fc47e" fill-opacity="0.92"/>
<rect x="417.10" y="590.0" width="1.2" height="66.0" fill="#1fc47e" fill-opacity="0.92"/>
<rect x="421.10" y="543.0" width="1.2" height="113.0" fill="#1fc47e" fill-opacity="0.92"/>
<rect x="425.40" y="607.0" width="1.2" height="49.0" fill="#1fc47e" fill-opacity="0.92"/>
<rect x="428.40" y="567.0" width="1.2" height="89.0" fill="#1fc47e" fill-opacity="0.92"/>
<rect x="431.70" y="577.0" width="1.2" height="79.0" fill="#1fc47e" fill-opacity="0.92"/>
<rect x="436.10" y="573.0" width="1.2" height="83.0" fill="#1fc47e" fill-opacity="0.92"/>
<rect x="441.10" y="450.0" width="1.2" height="206.0" fill="#1fc47e" fill-opacity="0.92"/>
<rect x="443.70" y="570.0" width="1.2" height="86.0" fill="#1fc47e" fill-opacity="0.92"/>
<rect x="447.70" y="543.0" width="1.2" height="113.0" fill="#1fc47e" fill-opacity="0.92"/>
<rect x="452.10" y="540.0" width="1.2" height="116.0" fill="#1fc47e" fill-opacity="0.92"/>
<rect x="452.70" y="542.0" width="1.2" height="114.0" fill="#1fc47e" fill-opacity="0.92"/>
<rect x="454.40" y="573.0" width="1.2" height="83.0" fill="#1fc47e" fill-opacity="0.92"/>
<rect x="457.70" y="483.0" width="1.2" height="173.0" fill="#1fc47e" fill-opacity="0.92"/>
<rect x="459.40" y="560.0" width="1.2" height="96.0" fill="#1fc47e" fill-opacity="0.92"/>
<rect x="463.40" y="550.0" width="1.2" height="106.0" fill="#1fc47e" fill-opacity="0.92"/>
<rect x="466.10" y="527.0" width="1.2" height="129.0" fill="#1fc47e" fill-opacity="0.92"/>
<rect x="469.40" y="603.0" width="1.2" height="53.0" fill="#1fc47e" fill-opacity="0.92"/>
<rect x="476.70" y="580.0" width="1.2" height="76.0" fill="#1fc47e" fill-opacity="0.92"/>
<rect x="482.70" y="620.0" width="1.2" height="36.0" fill="#1fc47e" fill-opacity="0.92"/>
<rect x="491.10" y="590.0" width="1.2" height="66.0" fill="#1fc47e" fill-opacity="0.92"/>
<rect x="497.70" y="610.0" width="1.2" height="46.0" fill="#1fc47e" fill-opacity="0.92"/>
<rect x="504.40" y="607.0" width="1.2" height="49.0" fill="#1fc47e" fill-opacity="0.92"/>
<rect x="508.70" y="593.0" width="1.2" height="63.0" fill="#1fc47e" fill-opacity="0.92"/>
<rect x="522.70" y="608.0" width="1.2" height="48.0" fill="#1fc47e" fill-opacity="0.92"/>
<rect x="526.70" y="613.0" width="1.2" height="43.0" fill="#1fc47e" fill-opacity="0.92"/>
<rect x="532.70" y="565.0" width="1.2" height="91.0" fill="#1fc47e" fill-opacity="0.92"/>
<rect x="536.10" y="620.0" width="1.2" height="36.0" fill="#1fc47e" fill-opacity="0.92"/>
<rect x="542.80" y="636.0" width="1.2" height="20.0" fill="#1fc47e" fill-opacity="0.92"/>
<rect x="548.20" y="629.0" width="1.2" height="27.0" fill="#1fc47e" fill-opacity="0.92"/>
<rect x="554.00" y="638.0" width="1.2" height="18.0" fill="#1fc47e" fill-opacity="0.92"/>
<rect x="557.10" y="631.0" width="1.2" height="25.0" fill="#1fc47e" fill-opacity="0.92"/>
<rect x="562.20" y="631.0" width="1.2" height="25.0" fill="#1fc47e" fill-opacity="0.92"/>
<rect x="567.70" y="620.0" width="1.2" height="36.0" fill="#1fc47e" fill-opacity="0.92"/>
<rect x="570.40" y="618.0" width="1.2" height="38.0" fill="#1fc47e" fill-opacity="0.92"/>
<rect x="576.60" y="640.0" width="1.2" height="16.0" fill="#1fc47e" fill-opacity="0.92"/>
<rect x="584.40" y="603.0" width="1.2" height="53.0" fill="#1fc47e" fill-opacity="0.92"/>
<rect x="590.00" y="609.0" width="1.2" height="47.0" fill="#1fc47e" fill-opacity="0.92"/>
<rect x="594.40" y="644.0" width="1.2" height="12.0" fill="#1fc47e" fill-opacity="0.92"/>
<rect x="597.70" y="644.0" width="1.2" height="12.0" fill="#1fc47e" fill-opacity="0.92"/>
<rect x="612.20" y="635.0" width="1.2" height="21.0" fill="#1fc47e" fill-opacity="0.92"/>
<rect x="614.40" y="613.0" width="1.2" height="43.0" fill="#1fc47e" fill-opacity="0.92"/>
<rect x="617.10" y="515.6" width="1.2" height="140.4" fill="#1fc47e" fill-opacity="0.92"/>
<rect x="622.20" y="644.0" width="1.2" height="12.0" fill="#1fc47e" fill-opacity="0.92"/>
<rect x="630.00" y="642.0" width="1.2" height="14.0" fill="#1fc47e" fill-opacity="0.92"/>
<rect x="636.20" y="632.0" width="1.2" height="24.0" fill="#1fc47e" fill-opacity="0.92"/>
<rect x="642.20" y="627.0" width="1.2" height="29.0" fill="#1fc47e" fill-opacity="0.92"/>
<rect x="646.90" y="624.0" width="1.2" height="32.0" fill="#1fc47e" fill-opacity="0.92"/>
<rect x="649.70" y="627.0" width="1.2" height="29.0" fill="#1fc47e" fill-opacity="0.92"/>
<rect x="654.70" y="624.0" width="1.2" height="32.0" fill="#1fc47e" fill-opacity="0.92"/>
<rect x="662.20" y="610.0" width="1.2" height="46.0" fill="#1fc47e" fill-opacity="0.92"/>
<rect x="671.90" y="471.0" width="1.2" height="185.0" fill="#1fc47e" fill-opacity="0.92"/>
<rect x="674.70" y="528.0" width="1.2" height="128.0" fill="#1fc47e" fill-opacity="0.92"/>
<rect x="683.00" y="638.0" width="1.2" height="18.0" fill="#1fc47e" fill-opacity="0.92"/>
<rect x="691.40" y="635.0" width="1.2" height="21.0" fill="#1fc47e" fill-opacity="0.92"/>
<rect x="705.20" y="610.0" width="1.2" height="46.0" fill="#1fc47e" fill-opacity="0.92"/>
<rect x="710.80" y="624.0" width="1.2" height="32.0" fill="#1fc47e" fill-opacity="0.92"/>
<rect x="718.60" y="593.0" width="1.2" height="63.0" fill="#1fc47e" fill-opacity="0.92"/>
<rect x="723.30" y="632.0" width="1.2" height="24.0" fill="#1fc47e" fill-opacity="0.92"/>
<rect x="728.80" y="616.0" width="1.2" height="40.0" fill="#1fc47e" fill-opacity="0.92"/>
<rect x="732.20" y="613.0" width="1.2" height="43.0" fill="#1fc47e" fill-opacity="0.92"/>
<rect x="737.70" y="600.0" width="1.2" height="56.0" fill="#1fc47e" fill-opacity="0.92"/>
<rect x="744.10" y="627.0" width="1.2" height="29.0" fill="#1fc47e" fill-opacity="0.92"/>
<rect x="749.70" y="616.0" width="1.2" height="40.0" fill="#1fc47e" fill-opacity="0.92"/>
<rect x="755.20" y="632.0" width="1.2" height="24.0" fill="#1fc47e" fill-opacity="0.92"/>
<rect x="762.20" y="631.0" width="1.2" height="25.0" fill="#1fc47e" fill-opacity="0.92"/>
<rect x="768.30" y="574.0" width="1.2" height="82.0" fill="#1fc47e" fill-opacity="0.92"/>
<rect x="773.30" y="624.0" width="1.2" height="32.0" fill="#1fc47e" fill-opacity="0.92"/>
<rect x="778.80" y="624.0" width="1.2" height="32.0" fill="#1fc47e" fill-opacity="0.92"/>
<rect x="788.60" y="600.0" width="1.2" height="56.0" fill="#1fc47e" fill-opacity="0.92"/>
<rect x="792.70" y="604.0" width="1.2" height="52.0" fill="#1fc47e" fill-opacity="0.92"/>
<rect x="801.10" y="616.0" width="1.2" height="40.0" fill="#1fc47e" fill-opacity="0.92"/>
<rect x="807.20" y="604.0" width="1.2" height="52.0" fill="#1fc47e" fill-opacity="0.92"/>
<rect x="810.00" y="567.0" width="1.2" height="89.0" fill="#1fc47e" fill-opacity="0.92"/>
<rect x="817.20" y="342.0" width="1.2" height="314.0" fill="#1fc47e" fill-opacity="0.92"/>
<rect x="821.40" y="516.0" width="1.2" height="140.0" fill="#1fc47e" fill-opacity="0.92"/>
<rect x="826.10" y="604.0" width="1.2" height="52.0" fill="#1fc47e" fill-opacity="0.92"/>
<rect x="831.60" y="627.0" width="1.2" height="29.0" fill="#1fc47e" fill-opacity="0.92"/>
<rect x="837.70" y="488.0" width="1.2" height="168.0" fill="#1fc47e" fill-opacity="0.92"/>
<rect x="839.90" y="127.0" width="1.2" height="529.0" fill="#1fc47e" fill-opacity="0.92"/>
<rect x="843.30" y="524.0" width="1.2" height="132.0" fill="#1fc47e" fill-opacity="0.92"/>
<rect x="844.60" y="239.0" width="1.2" height="417.0" fill="#1fc47e" fill-opacity="0.92"/>
<rect x="847.90" y="469.0" width="1.2" height="187.0" fill="#1fc47e" fill-opacity="0.92"/>
<rect x="851.10" y="586.0" width="1.2" height="70.0" fill="#1fc47e" fill-opacity="0.92"/>
<rect x="852.40" y="364.0" width="1.2" height="292.0" fill="#1fc47e" fill-opacity="0.92"/>
<rect x="859.50" y="404.0" width="1.2" height="252.0" fill="#1fc47e" fill-opacity="0.92"/>
<rect x="862.00" y="571.0" width="1.2" height="85.0" fill="#1fc47e" fill-opacity="0.92"/>
<rect x="865.90" y="582.0" width="1.2" height="74.0" fill="#1fc47e" fill-opacity="0.92"/>
<rect x="868.60" y="590.0" width="1.2" height="66.0" fill="#1fc47e" fill-opacity="0.92"/>
<rect x="873.70" y="598.0" width="1.2" height="58.0" fill="#1fc47e" fill-opacity="0.92"/>
<rect x="880.30" y="617.0" width="1.2" height="39.0" fill="#1fc47e" fill-opacity="0.92"/>
<rect x="878.60" y="618.0" width="1.2" height="38.0" fill="#1fc47e" fill-opacity="0.92"/>
<rect x="882.20" y="621.0" width="1.2" height="35.0" fill="#1fc47e" fill-opacity="0.92"/>
<rect x="888.30" y="558.6" width="1.2" height="97.4" fill="#1fc47e" fill-opacity="0.92"/>
<rect x="892.40" y="621.0" width="1.2" height="35.0" fill="#1fc47e" fill-opacity="0.92"/>
<rect x="897.20" y="610.0" width="1.2" height="46.0" fill="#1fc47e" fill-opacity="0.92"/>
<rect x="905.80" y="557.0" width="1.2" height="99.0" fill="#1fc47e" fill-opacity="0.92"/>
<rect x="912.70" y="603.0" width="1.2" height="53.0" fill="#1fc47e" fill-opacity="0.92"/>
<rect x="918.30" y="614.0" width="1.2" height="42.0" fill="#1fc47e" fill-opacity="0.92"/>
<rect x="925.80" y="616.0" width="1.2" height="40.0" fill="#1fc47e" fill-opacity="0.92"/>
<rect x="930.00" y="602.0" width="1.2" height="54.0" fill="#1fc47e" fill-opacity="0.92"/>
<rect x="932.70" y="600.0" width="1.2" height="56.0" fill="#1fc47e" fill-opacity="0.92"/>
<rect x="935.00" y="574.0" width="1.2" height="82.0" fill="#1fc47e" fill-opacity="0.92"/>
<rect x="937.70" y="596.0" width="1.2" height="60.0" fill="#1fc47e" fill-opacity="0.92"/>
<rect x="941.10" y="542.0" width="1.2" height="114.0" fill="#1fc47e" fill-opacity="0.92"/>
<rect x="947.20" y="632.0" width="1.2" height="24.0" fill="#1fc47e" fill-opacity="0.92"/>
<rect x="955.00" y="579.0" width="1.2" height="77.0" fill="#1fc47e" fill-opacity="0.92"/>
<rect x="963.80" y="561.0" width="1.2" height="95.0" fill="#1fc47e" fill-opacity="0.92"/>
<rect x="968.00" y="513.0" width="1.2" height="143.0" fill="#1fc47e" fill-opacity="0.92"/>
<rect x="968.80" y="552.0" width="1.2" height="104.0" fill="#1fc47e" fill-opacity="0.92"/>
<rect x="974.10" y="280.0" width="1.2" height="376.0" fill="#1fc47e" fill-opacity="0.92"/>
<path d="M76.5,388.0L77.5,390.0L78.7,387.8L79.7,390.2L80.6,393.0L81.3,396.2L82.1,399.0L83.2,403.6L84.4,405.4L85.2,407.2L85.9,409.2L86.7,406.6L87.5,403.9L88.2,395.7L89.0,387.0L89.8,380.7L90.5,376.4L91.5,372.6L92.5,368.7L93.2,371.4L94.0,373.3L95.1,384.0L95.8,386.4L96.6,387.0L97.3,383.5L98.1,382.5L98.9,374.8L100.1,385.5L101.2,374.8L102.0,373.4L102.7,373.3L103.5,366.3L104.2,361.9L105.3,377.9L106.5,393.2L107.2,388.8L108.0,382.5L108.8,382.7L109.6,381.7L110.5,389.0L111.4,399.3L112.6,384.0L113.4,389.3L114.2,391.6L115.1,387.8L116.0,381.0L116.9,391.6L117.7,385.2L118.4,377.9L119.2,385.1L120.0,391.6L120.9,395.1L121.8,400.8L122.5,405.3L123.3,413.0L124.5,429.8L125.6,419.1L126.6,415.4L127.6,411.5L128.5,415.4L129.4,422.2L130.2,435.7L131.0,451.2L132.2,434.4L133.1,429.8L134.0,426.8L135.2,429.5L136.3,435.2L137.4,433.1L138.6,431.3L139.8,434.4L140.7,426.2L141.6,418.4L142.4,423.3L143.2,426.0L144.3,425.7L145.5,425.2L146.7,430.2L147.8,434.4L148.9,436.7L150.0,439.0L150.8,434.9L151.6,429.8L152.3,435.8L153.1,442.0L153.8,443.6L154.6,446.6L155.4,443.6L156.2,437.4L157.7,433.7L159.2,426.8L159.9,430.1L160.7,431.3L161.5,435.0L162.3,437.4L163.4,437.6L164.5,439.0L166.1,437.3L167.6,437.4L168.8,435.0L170.0,433.9L170.7,431.9L171.4,432.7L172.2,437.1L173.0,439.8L174.2,441.2L175.3,443.3L176.2,442.1L177.1,438.6L178.0,439.4L178.9,441.0L179.8,444.8L180.6,445.7L181.8,438.6L183.0,437.4L184.2,445.7L185.3,454.0L186.2,455.7L187.1,455.1L188.0,458.3L188.9,464.6L189.8,461.9L190.7,461.0L191.8,462.2L193.0,457.5L194.2,465.8L195.4,450.4L196.6,445.7L197.7,438.6L198.9,428.0L200.1,429.2L201.3,442.2L202.5,433.9L203.3,436.4L204.2,436.3L205.4,444.5L206.3,450.9L207.2,457.5L207.8,463.4L208.7,464.3L209.6,462.2L210.4,466.6L211.3,471.7L211.9,484.7L212.8,478.6L213.7,475.2L214.9,484.7L215.8,479.8L216.6,474.0L217.5,477.9L218.4,480.0L219.3,481.6L220.2,484.7L221.1,480.4L221.9,478.8L222.8,479.4L223.7,481.1L224.9,476.4L225.8,480.2L226.7,481.1L227.6,480.8L228.4,478.8L229.3,479.9L230.2,483.5L231.4,477.4L232.6,472.9L233.4,475.7L234.3,481.1L235.5,481.1L236.4,471.4L237.3,464.6L238.2,462.6L239.1,458.7L239.9,464.2L240.8,471.7L241.7,470.7L242.6,469.3L243.5,465.0L244.4,461.0L245.3,455.9L246.2,452.8L247.1,452.3L247.9,450.4L248.8,450.4L249.7,452.8L250.6,453.9L251.5,454.0L252.3,456.9L253.2,462.2L254.1,463.1L255.0,464.6L255.9,456.6L256.8,450.4L257.6,453.8L258.3,458.7L259.3,456.7L260.3,451.6L261.2,454.3L262.1,455.1L263.0,455.1L263.9,456.3L265.0,454.0L265.8,452.8L266.6,449.2L267.4,459.9L268.3,461.9L269.2,465.8L270.4,474.0L271.5,481.1L272.1,484.1L272.8,487.8L273.8,494.8L274.7,499.5L275.7,505.3L276.4,501.9L277.1,497.5L277.9,507.9L278.6,520.9L279.6,530.2L280.6,536.4L281.4,542.3L282.1,550.0L282.8,551.2L283.5,553.9L284.5,569.5L285.2,565.5L286.0,559.8L287.0,560.2L288.0,561.7L288.6,555.2L289.3,550.0L290.3,551.1L291.3,554.9L292.0,552.1L292.6,552.0L293.4,557.1L294.2,561.7L295.1,566.7L296.1,573.4L297.1,592.8L298.1,596.1L299.0,598.7L300.0,596.3L301.0,594.8L301.9,600.5L302.9,606.5L303.9,611.8L304.9,614.2L305.9,607.3L306.8,600.6L307.8,598.9L308.8,596.7L309.8,603.7L310.7,608.4L311.7,603.5L312.7,600.6L313.6,604.4L314.6,610.4L315.6,606.8L316.6,600.6L317.6,598.7L318.5,594.8L319.4,600.8L320.4,608.4L321.4,606.5L322.4,606.5L323.4,609.2L324.3,610.4L325.3,603.0L326.3,592.8L327.2,584.1L328.2,577.3L329.2,582.6L330.2,585.0L331.1,578.5L332.1,569.5L333.1,566.9L334.1,563.7L335.1,564.4L336.0,565.6L337.0,562.4L338.0,561.7L338.9,570.9L339.9,583.1L340.9,576.8L341.8,567.5L342.8,570.6L343.8,575.3L344.8,575.0L345.7,573.4L346.7,565.8L347.7,559.8L348.6,559.8L349.6,557.8L350.6,555.2L351.6,552.0L352.6,557.2L353.5,563.7L354.5,557.8L355.5,553.9L356.4,546.9L357.4,538.4L358.1,531.2L358.9,526.7L359.6,506.4L360.4,487.8L361.1,496.7L361.8,505.3L362.8,514.2L363.8,520.9L364.8,516.4L365.7,511.1L366.6,512.3L367.6,515.0L368.6,522.2L369.6,526.7L370.6,528.7L371.5,532.5L372.5,529.0L373.5,528.6L374.4,531.8L375.4,536.4L376.4,529.4L377.4,522.8L378.4,526.2L379.3,532.5L380.3,538.3L381.3,546.1L382.2,544.7L383.2,544.2L384.2,551.2L385.2,557.8L386.1,553.7L387.1,552.0L388.1,552.5L389.0,553.9L390.0,560.1L391.0,563.7L391.9,564.2L392.9,561.7L393.9,564.2L394.9,565.6L395.9,577.9L396.8,588.9L397.8,583.4L398.8,577.3L399.8,573.2L400.7,571.4L401.7,569.0L402.7,569.5L403.6,555.3L404.6,544.2L405.6,547.5L406.6,548.1L407.6,552.6L408.5,555.9L409.4,551.5L410.4,544.2L411.4,539.8L412.4,538.4L413.1,537.8L413.8,536.4L414.6,544.1L415.3,552.0L416.1,557.6L416.9,561.7L417.5,568.9L418.2,577.3L419.2,590.5L420.2,600.6L421.1,597.3L422.1,596.7L423.1,590.0L424.1,583.1L425.1,593.6L426.0,602.6L427.0,597.0L428.0,588.9L428.9,591.6L429.9,592.8L430.9,580.8L431.8,567.5L432.8,586.9L433.8,604.5L434.8,594.2L435.7,581.2L436.7,564.2L437.7,548.1L438.6,538.9L439.6,528.6L440.6,520.2L441.6,509.2L442.6,505.5L443.5,499.5L444.2,496.3L444.9,493.6L445.6,502.7L446.4,510.0L447.4,505.9L448.4,499.5L449.2,501.3L450.1,502.7L451.3,452.2L452.0,438.1L452.6,423.3L453.3,431.1L454.0,439.6L454.8,436.2L455.5,432.3L456.7,441.4L457.4,437.2L458.0,432.3L459.1,385.4L460.3,399.9L461.0,418.4L461.6,439.6L462.4,441.8L463.1,443.2L463.8,461.9L464.5,477.5L465.1,492.2L465.8,504.5L466.7,464.8L467.4,462.8L468.1,459.4L469.4,464.8L470.3,449.1L471.2,434.2L472.4,452.2L473.1,462.9L473.9,472.1L474.6,468.7L475.3,464.8L476.2,480.0L477.1,495.5L477.9,487.6L478.6,477.5L479.4,470.7L480.2,466.6L481.1,460.2L482.0,452.2L482.7,452.5L483.4,455.8L484.2,472.4L485.1,488.3L486.0,481.0L486.9,473.9L487.8,470.3L488.7,468.4L489.6,464.5L490.5,459.4L491.6,449.5L492.8,439.6L493.7,445.4L494.6,450.4L495.5,445.4L496.4,437.8L497.3,441.5L498.2,446.8L499.1,446.1L500.1,448.6L501.3,473.9L502.1,457.0L502.8,441.4L503.7,433.8L504.6,425.1L505.5,423.2L506.4,423.3L507.3,418.6L508.2,416.1L508.9,409.3L509.6,399.9L510.5,402.2L511.4,403.5L512.3,409.6L513.2,416.1L514.3,411.1L515.4,403.5L516.3,407.4L517.2,412.5L518.1,416.6L519.0,419.7L519.9,416.0L520.8,414.3L521.7,425.8L522.6,437.8L523.5,429.7L524.4,419.7L525.3,413.8L526.2,405.3L527.3,400.2L528.4,392.6L529.3,404.9L530.2,417.9L530.9,415.5L531.6,412.5L532.4,424.6L533.1,437.8L534.0,422.2L534.9,408.9L535.8,410.7L536.7,412.5L537.6,416.3L538.5,417.9L539.4,423.5L540.3,426.9L541.4,431.7L542.1,431.0L542.8,428.9L543.5,433.8L544.2,435.8L544.9,433.7L545.6,433.1L546.9,442.8L548.1,456.7L549.0,446.9L549.7,446.5L550.4,448.3L551.1,444.7L551.8,441.4L552.5,438.6L553.2,437.2L553.9,434.9L554.6,434.4L555.6,430.3L556.7,437.2L557.4,433.5L558.1,430.3L559.4,433.1L560.1,436.3L560.8,438.6L561.9,435.8L562.9,459.4L563.6,455.2L564.3,451.1L565.0,451.9L565.7,453.9L566.4,461.9L567.1,467.8L567.8,474.9L568.5,478.9L569.2,473.9L569.9,469.2L570.6,468.5L571.3,470.6L572.0,471.9L572.6,476.1L573.5,470.3L574.4,462.2L575.1,466.3L575.8,473.3L576.8,484.4L577.5,480.2L578.2,474.7L578.9,477.0L579.6,478.9L580.3,474.8L581.0,471.9L581.7,473.5L582.4,473.3L583.1,469.7L583.8,469.2L584.5,468.7L585.1,470.6L586.2,467.7L587.2,465.0L588.2,465.6L589.3,469.2L590.3,428.9L591.4,431.7L592.1,436.2L592.8,438.6L593.5,439.9L594.2,442.8L594.9,443.7L595.6,446.9L596.9,453.9L597.6,446.2L598.3,441.4L599.0,445.3L599.7,448.3L600.4,448.8L601.1,449.7L601.8,446.0L602.5,441.4L603.2,441.2L603.9,440.0L604.6,443.1L605.3,444.2L606.0,441.5L606.7,435.8L607.4,441.3L608.1,445.6L609.4,440.0L610.1,440.4L610.8,442.8L611.9,452.5L612.6,446.9L613.3,441.4L614.1,439.7L615.0,440.0L616.1,421.9L617.2,401.8L618.5,415.0L619.2,417.6L619.9,423.3L620.6,423.2L621.3,423.3L622.0,426.1L622.6,427.5L623.3,424.4L624.0,423.3L624.7,426.1L625.4,430.3L626.1,429.1L626.8,428.9L627.5,430.9L628.2,431.7L628.9,432.5L629.6,433.1L630.3,432.1L631.0,430.3L631.7,435.3L632.4,438.6L633.1,441.1L633.8,444.2L634.5,445.8L635.1,445.6L636.0,448.3L636.9,448.4L637.9,449.0L638.9,452.3L639.8,459.5L640.8,463.9L641.8,454.9L642.8,444.5L643.8,439.4L644.7,436.7L645.7,441.4L646.7,446.4L647.7,451.7L648.6,456.1L649.6,466.2L650.6,473.7L651.5,475.2L652.5,477.5L653.5,467.0L654.5,456.1L655.5,456.4L656.4,454.2L657.3,459.0L658.3,462.0L659.3,459.5L660.3,454.2L661.2,453.1L662.2,452.3L663.2,453.7L664.2,454.2L665.2,459.1L666.1,465.9L667.1,469.5L668.1,471.7L669.0,463.0L670.0,452.3L671.0,439.1L672.0,425.0L673.0,421.8L673.9,417.2L674.9,406.1L675.9,396.8L676.6,411.2L677.4,423.1L678.4,428.5L679.4,430.9L680.3,434.3L681.3,434.7L682.2,439.7L683.2,444.5L684.2,447.4L685.2,448.4L686.2,444.9L687.1,442.5L688.1,449.7L689.1,454.2L690.0,453.4L691.0,450.3L692.0,455.7L693.0,462.0L694.0,462.6L694.9,465.9L695.9,467.7L696.9,469.8L697.8,466.1L698.8,462.0L699.8,456.1L700.8,448.4L701.8,443.5L702.7,438.6L703.7,439.0L704.6,442.5L705.6,451.3L706.6,458.1L707.5,453.8L708.5,452.3L709.7,449.4L710.9,444.5L711.8,442.5L712.8,442.5L713.8,445.9L714.8,450.3L715.5,459.1L716.3,466.0L717.1,475.5L717.9,487.3L718.9,520.0L719.6,511.3L720.4,504.8L721.1,509.7L721.8,514.5L722.8,511.3L723.8,506.7L724.8,508.8L725.7,508.7L726.7,505.4L727.6,500.9L728.6,500.4L729.6,497.0L730.5,494.1L731.5,491.2L732.5,487.3L733.5,480.5L734.8,491.2L735.6,495.7L736.4,502.8L737.2,506.8L738.0,512.6L739.3,502.8L740.3,505.8L741.3,508.7L742.2,510.0L743.2,512.6L743.9,514.3L744.6,514.5L745.4,511.0L746.1,506.7L747.1,503.9L748.1,500.9L749.0,499.1L750.0,495.1L751.0,492.3L752.0,489.2L753.0,491.5L753.9,495.1L754.9,489.8L755.9,485.3L756.8,484.5L757.8,481.4L758.8,481.7L759.7,479.5L760.7,482.5L761.7,487.3L762.7,490.4L763.6,491.2L764.4,491.7L765.2,489.2L765.9,492.2L766.6,495.1L767.9,475.6L768.7,464.2L769.5,452.3L770.5,452.3L771.4,454.2L772.4,446.5L773.4,438.6L774.1,446.4L774.9,454.2L775.9,458.4L776.9,462.0L777.8,457.5L778.8,456.1L779.8,459.6L780.8,460.0L781.8,461.1L782.7,462.0L783.5,463.6L784.3,465.9L785.2,463.9L786.2,460.0L787.1,458.3L788.0,456.1L789.3,430.9L790.3,427.0L791.3,423.1L792.2,418.8L793.2,413.3L794.0,413.9L794.8,417.2L795.8,422.2L796.7,427.0L797.7,427.7L798.7,428.9L799.5,426.5L800.2,421.1L801.2,428.3L802.2,432.8L803.2,433.0L804.1,434.7L805.1,435.6L806.1,436.7L807.0,431.6L808.0,428.9L809.0,422.2L809.9,416.0L810.5,411.3L811.2,404.5L812.2,407.7L813.2,408.4L814.2,401.5L815.1,394.8L815.9,389.4L816.7,385.1L817.8,342.3L819.0,352.0L819.8,347.1L820.6,344.2L821.4,337.8L822.1,330.6L822.8,340.7L823.5,348.1L824.5,334.5L825.2,326.5L826.0,320.9L826.8,333.4L827.6,344.2L828.5,346.6L829.3,352.0L830.3,356.9L831.3,363.7L832.2,357.9L833.2,353.9L834.2,347.7L835.2,340.3L836.2,337.8L837.1,336.4L838.1,324.7L839.0,307.2L840.0,295.0L841.2,245.0L842.5,232.5L843.7,225.0L845.0,202.5L846.2,215.0L847.5,220.0L848.7,197.5L850.0,207.5L850.9,198.3L851.7,190.0L853.0,195.0L853.8,189.1L854.5,182.5L855.4,183.7L856.2,187.5L857.1,182.0L858.0,175.0L859.2,162.5L860.5,142.5L861.2,136.3L862.0,132.5L862.8,138.8L863.5,145.0L864.2,140.5L865.0,137.5L865.8,146.5L866.5,157.5L867.5,175.0L868.7,162.5L869.6,160.1L870.5,157.5L871.2,147.3L872.0,137.5L872.9,142.1L873.7,147.5L874.6,151.0L875.5,155.0L876.5,161.3L877.5,167.5L878.2,170.2L879.0,175.0L879.8,167.8L880.5,162.5L881.5,169.2L882.5,175.0L883.5,176.7L884.5,177.5L885.4,178.8L886.2,180.0L887.1,184.9L888.0,187.5L888.8,181.6L889.5,175.0L890.4,181.1L891.2,185.0L892.1,177.9L893.0,172.5L894.0,179.5L895.0,185.0L896.0,179.7L897.0,172.5L897.9,172.5L898.7,170.0L899.6,169.4L900.5,170.0L901.5,176.9L902.8,186.3L903.8,184.8L904.7,184.4L905.6,197.5L906.9,212.6L907.6,208.3L908.4,201.3L909.3,200.4L910.3,201.3L911.0,203.8L911.6,203.2L912.5,198.8L913.5,191.9L914.5,194.5L915.4,199.4L916.3,202.3L917.3,206.9L918.2,213.3L919.1,218.2L919.9,216.5L920.6,216.3L921.5,219.7L922.5,225.7L923.5,228.6L924.4,229.4L925.3,233.8L926.3,238.8L927.0,240.7L927.8,240.7L928.5,234.8L929.1,231.3L930.0,225.4L931.0,220.1L931.9,216.9L932.8,212.6L933.5,212.9L934.1,216.3L934.9,205.9L935.6,197.5L936.4,197.2L937.1,195.7L937.8,189.5L938.5,180.7L939.8,178.8L940.9,173.2L941.5,167.2L942.2,158.2L943.5,171.3L944.2,174.8L945.0,180.7L945.8,179.8L946.5,178.8L947.8,184.4L948.5,181.5L949.2,176.9L950.0,177.9L950.7,178.8L951.6,179.4L952.5,178.8L953.5,174.1L954.4,171.3L955.1,166.2L955.9,163.8L956.5,166.3L957.2,171.3L958.2,172.6L959.1,176.9L960.0,171.5L961.0,165.7L962.0,167.6L962.9,169.4L963.8,167.8L964.7,165.7L966.0,150.6L967.2,139.4L968.5,125.3L969.8,143.1L970.5,147.6L971.3,154.4L972.0,153.8L972.8,155.3L973.5,148.0" fill="none" stroke="#f0f0f0" stroke-width="1.35" stroke-linejoin="round"/>
<rect x="75" y="100" width="2" height="556" fill="#40a279"/>
<rect x="1195" y="100" width="2" height="556" fill="#e8e8ea"/>
<text x="64.6" y="660.6" text-anchor="end" font-family="Liberation Sans, sans-serif" font-size="16" fill="#e6e6e8" textLength="9.1" lengthAdjust="spacingAndGlyphs">0</text>
<text x="64.6" y="600.6" text-anchor="end" font-family="Liberation Sans, sans-serif" font-size="16" fill="#e6e6e8" textLength="31.8" lengthAdjust="spacingAndGlyphs">25M</text>
<text x="64.6" y="540.6" text-anchor="end" font-family="Liberation Sans, sans-serif" font-size="16" fill="#e6e6e8" textLength="31.8" lengthAdjust="spacingAndGlyphs">50M</text>
<text x="64.6" y="480.6" text-anchor="end" font-family="Liberation Sans, sans-serif" font-size="16" fill="#e6e6e8" textLength="31.8" lengthAdjust="spacingAndGlyphs">75M</text>
<text x="64.6" y="420.6" text-anchor="end" font-family="Liberation Sans, sans-serif" font-size="16" fill="#e6e6e8" textLength="40.8" lengthAdjust="spacingAndGlyphs">100M</text>
<text x="64.6" y="360.6" text-anchor="end" font-family="Liberation Sans, sans-serif" font-size="16" fill="#e6e6e8" textLength="40.8" lengthAdjust="spacingAndGlyphs">125M</text>
<text x="64.6" y="300.6" text-anchor="end" font-family="Liberation Sans, sans-serif" font-size="16" fill="#e6e6e8" textLength="40.8" lengthAdjust="spacingAndGlyphs">150M</text>
<text x="64.6" y="240.6" text-anchor="end" font-family="Liberation Sans, sans-serif" font-size="16" fill="#e6e6e8" textLength="40.8" lengthAdjust="spacingAndGlyphs">175M</text>
<text x="64.6" y="180.6" text-anchor="end" font-family="Liberation Sans, sans-serif" font-size="16" fill="#e6e6e8" textLength="40.8" lengthAdjust="spacingAndGlyphs">200M</text>
<text x="64.6" y="120.6" text-anchor="end" font-family="Liberation Sans, sans-serif" font-size="16" fill="#e6e6e8" textLength="40.8" lengthAdjust="spacingAndGlyphs">225M</text>
<text x="1208.5" y="126.7" font-family="Liberation Sans, sans-serif" font-size="16" fill="#e6e6e8" textLength="35.9" lengthAdjust="spacingAndGlyphs">$72K</text>
<text x="1208.5" y="169.4" font-family="Liberation Sans, sans-serif" font-size="16" fill="#e6e6e8" textLength="48.7" lengthAdjust="spacingAndGlyphs">$71.5K</text>
<text x="1208.5" y="212.4" font-family="Liberation Sans, sans-serif" font-size="16" fill="#e6e6e8" textLength="35.9" lengthAdjust="spacingAndGlyphs">$71K</text>
<text x="1208.5" y="255.7" font-family="Liberation Sans, sans-serif" font-size="16" fill="#e6e6e8" textLength="48.7" lengthAdjust="spacingAndGlyphs">$70.5K</text>
<text x="1208.5" y="299.4" font-family="Liberation Sans, sans-serif" font-size="16" fill="#e6e6e8" textLength="35.9" lengthAdjust="spacingAndGlyphs">$70K</text>
<text x="1208.5" y="343.3" font-family="Liberation Sans, sans-serif" font-size="16" fill="#e6e6e8" textLength="48.7" lengthAdjust="spacingAndGlyphs">$69.5K</text>
<text x="1208.5" y="387.6" font-family="Liberation Sans, sans-serif" font-size="16" fill="#e6e6e8" textLength="35.9" lengthAdjust="spacingAndGlyphs">$69K</text>
<text x="1208.5" y="432.1" font-family="Liberation Sans, sans-serif" font-size="16" fill="#e6e6e8" textLength="48.7" lengthAdjust="spacingAndGlyphs">$68.5K</text>
<text x="1208.5" y="477.0" font-family="Liberation Sans, sans-serif" font-size="16" fill="#e6e6e8" textLength="35.9" lengthAdjust="spacingAndGlyphs">$68K</text>
<text x="1208.5" y="522.3" font-family="Liberation Sans, sans-serif" font-size="16" fill="#e6e6e8" textLength="48.7" lengthAdjust="spacingAndGlyphs">$67.5K</text>
<text x="1208.5" y="567.8" font-family="Liberation Sans, sans-serif" font-size="16" fill="#e6e6e8" textLength="35.9" lengthAdjust="spacingAndGlyphs">$67K</text>
<text x="1208.5" y="613.7" font-family="Liberation Sans, sans-serif" font-size="16" fill="#e6e6e8" textLength="48.7" lengthAdjust="spacingAndGlyphs">$66.5K</text>
<text x="1208.5" y="660.0" font-family="Liberation Sans, sans-serif" font-size="16" fill="#e6e6e8" textLength="35.9" lengthAdjust="spacingAndGlyphs">$66K</text>
<rect x="1196" y="128" width="57" height="29.5" fill="#ffffff"/>
<text x="1200.5" y="148.5" font-family="Liberation Sans, sans-serif" font-size="16" fill="#1b1a20" textLength="48" lengthAdjust="spacingAndGlyphs">$71.7K</text>
<rect x="15.5" y="360" width="61" height="29" fill="#1fc47e"/>
<text x="21" y="380.5" font-family="Liberation Sans, sans-serif" font-size="16" fill="#ffffff" textLength="50" lengthAdjust="spacingAndGlyphs">116.4M</text>
<text x="390" y="45.5" font-family="Liberation Sans, sans-serif" font-weight="bold" font-size="25.5" fill="#ffffff" stroke="#ffffff" stroke-width="0.35" textLength="501" lengthAdjust="spacingAndGlyphs">Bitcoin: Taker Buy Volume - All Exchanges</text>
<line x1="513" y1="72.5" x2="529.5" y2="72.5" stroke="#e6e6e8" stroke-width="1.3"/>
<text x="534" y="77.5" font-family="Liberation Sans, sans-serif" font-size="16" fill="#e6e6e8" textLength="68" lengthAdjust="spacingAndGlyphs">Price USD</text>
<circle cx="629.2" cy="70.5" r="8" fill="#1fc47e"/>
<text x="642" y="77.5" font-family="Liberation Sans, sans-serif" font-size="16" fill="#e6e6e8" textLength="124" lengthAdjust="spacingAndGlyphs">Taker Buy Volume</text>
<text x="1088" y="702.5" font-family="Liberation Sans, sans-serif" font-size="11.5" fill="#8a898e" textLength="160" lengthAdjust="spacingAndGlyphs">© CryptoQuant. All rights reserved</text>
</svg>
</body></html>
